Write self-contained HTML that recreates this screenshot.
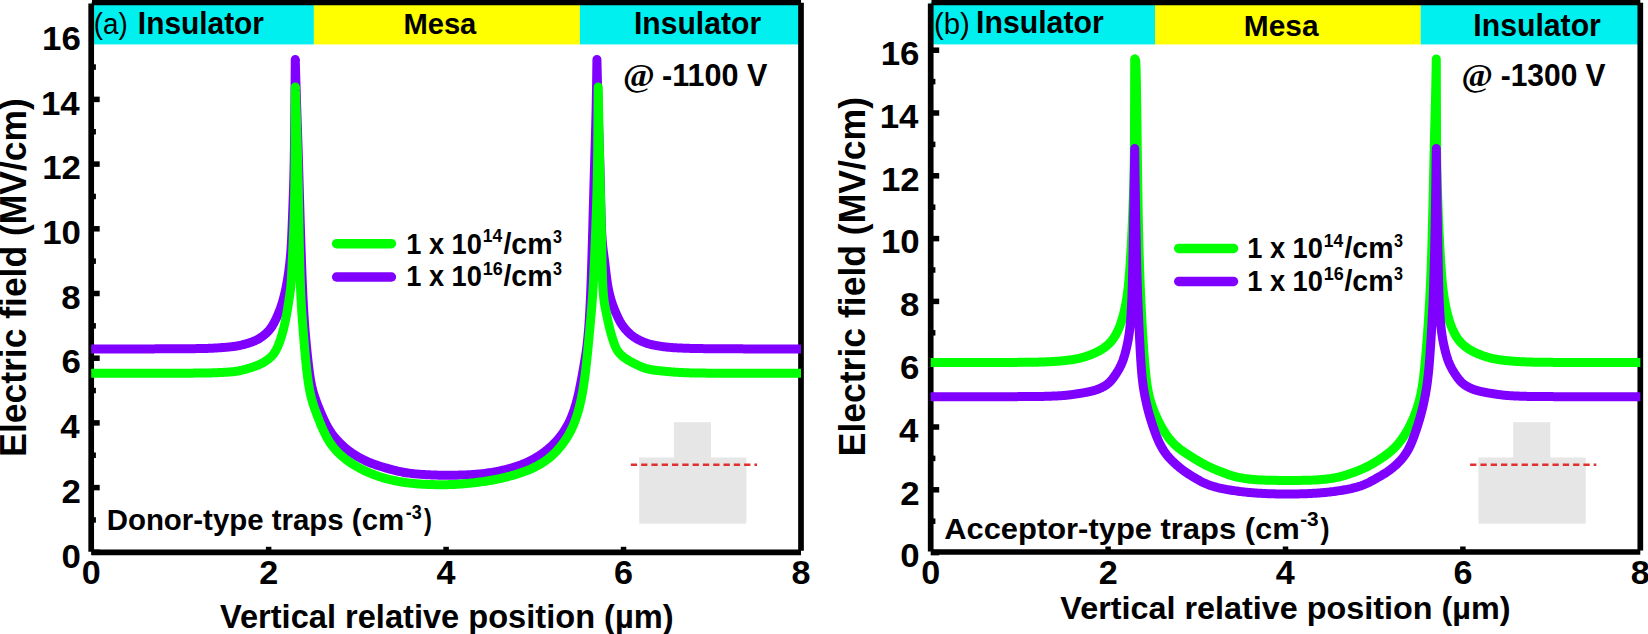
<!DOCTYPE html>
<html><head><meta charset="utf-8"><title>Electric field</title>
<style>html,body{margin:0;padding:0;background:#fff;}svg{display:block}</style></head>
<body><svg width="1648" height="634" viewBox="0 0 1648 634">
<rect width="1648" height="634" fill="#fff"/>
<rect x="91.2" y="549.55" width="8.5" height="5.5" fill="#000"/>
<rect x="91.2" y="517.20" width="4.7" height="5.5" fill="#000"/>
<rect x="91.2" y="484.85" width="8.5" height="5.5" fill="#000"/>
<rect x="91.2" y="452.50" width="4.7" height="5.5" fill="#000"/>
<rect x="91.2" y="420.15" width="8.5" height="5.5" fill="#000"/>
<rect x="91.2" y="387.80" width="4.7" height="5.5" fill="#000"/>
<rect x="91.2" y="355.45" width="8.5" height="5.5" fill="#000"/>
<rect x="91.2" y="323.10" width="4.7" height="5.5" fill="#000"/>
<rect x="91.2" y="290.75" width="8.5" height="5.5" fill="#000"/>
<rect x="91.2" y="258.40" width="4.7" height="5.5" fill="#000"/>
<rect x="91.2" y="226.05" width="8.5" height="5.5" fill="#000"/>
<rect x="91.2" y="193.70" width="4.7" height="5.5" fill="#000"/>
<rect x="91.2" y="161.35" width="8.5" height="5.5" fill="#000"/>
<rect x="91.2" y="129.00" width="4.7" height="5.5" fill="#000"/>
<rect x="91.2" y="96.65" width="8.5" height="5.5" fill="#000"/>
<rect x="91.2" y="64.30" width="4.7" height="5.5" fill="#000"/>
<rect x="91.2" y="31.95" width="8.5" height="5.5" fill="#000"/>
<rect x="91.2" y="2" width="222.70" height="42.4" fill="#00f0f0"/>
<rect x="313.90" y="2" width="266.00" height="42.4" fill="#ffff00"/>
<rect x="579.90" y="2" width="221.10" height="42.4" fill="#00f0f0"/>
<rect x="673.9" y="422.2" width="37.1" height="36" fill="#e6e6e6"/>
<rect x="639.2" y="457.5" width="107.2" height="66.1" fill="#e6e6e6"/>
<line x1="630.8" y1="464.8" x2="757.0" y2="464.8" stroke="#e03030" stroke-width="2.4" stroke-dasharray="6.3 4"/>
<path d="M92.00,2.45 H801.00 M91.20,3.5 V551.70 M91.70,552.30 H801.00 M801.00,2.8 V550.80" fill="none" stroke="#000" stroke-width="5.7" stroke-linecap="butt"/>
<path d="M91.20,349.00 L94.73,349.00 L95.45,349.00 L96.24,349.00 L97.10,349.00 L98.02,349.00 L99.00,349.00 L100.02,349.00 L101.08,349.00 L102.17,349.00 L103.28,348.99 L104.41,348.99 L105.55,348.99 L106.69,348.99 L107.84,348.99 L108.98,348.99 L110.13,348.99 L111.27,348.99 L112.41,348.99 L113.55,348.98 L114.68,348.98 L115.81,348.98 L116.93,348.98 L118.05,348.98 L119.17,348.98 L120.28,348.97 L121.38,348.97 L122.48,348.97 L123.58,348.97 L124.67,348.97 L125.75,348.96 L126.84,348.96 L127.91,348.96 L128.99,348.96 L130.05,348.96 L131.12,348.95 L132.18,348.95 L133.23,348.95 L134.28,348.94 L135.32,348.94 L136.36,348.94 L137.40,348.94 L138.43,348.93 L139.46,348.93 L140.48,348.93 L141.50,348.92 L142.51,348.92 L143.52,348.92 L144.53,348.91 L145.53,348.91 L146.52,348.91 L147.51,348.90 L148.50,348.90 L149.48,348.90 L150.46,348.89 L151.43,348.89 L152.40,348.88 L153.37,348.88 L154.33,348.88 L155.29,348.87 L156.24,348.87 L157.18,348.86 L158.13,348.86 L159.07,348.86 L160.00,348.85 L160.93,348.85 L161.86,348.84 L162.78,348.84 L163.70,348.83 L164.61,348.83 L165.52,348.83 L166.42,348.82 L167.33,348.82 L168.22,348.81 L169.11,348.81 L170.00,348.80 L170.89,348.80 L171.77,348.79 L172.64,348.79 L173.51,348.78 L174.38,348.78 L175.24,348.77 L176.10,348.77 L176.96,348.76 L177.81,348.76 L178.65,348.75 L179.50,348.75 L180.34,348.74 L181.17,348.74 L182.00,348.73 L182.83,348.72 L183.65,348.72 L184.47,348.71 L185.28,348.71 L186.09,348.70 L186.90,348.70 L187.70,348.69 L188.50,348.69 L189.29,348.68 L190.08,348.67 L190.87,348.67 L191.65,348.66 L192.43,348.66 L193.21,348.65 L193.98,348.64 L194.75,348.64 L195.51,348.63 L196.27,348.62 L197.02,348.62 L197.77,348.61 L198.52,348.60 L199.27,348.59 L200.01,348.58 L200.74,348.57 L201.47,348.56 L202.20,348.54 L202.93,348.53 L203.65,348.51 L204.37,348.49 L205.08,348.48 L205.79,348.45 L206.50,348.43 L207.20,348.41 L207.90,348.39 L208.59,348.36 L209.28,348.33 L209.97,348.30 L210.65,348.28 L211.33,348.24 L212.01,348.21 L212.68,348.18 L213.35,348.14 L214.02,348.11 L214.68,348.07 L215.34,348.03 L215.99,347.99 L216.64,347.95 L217.29,347.91 L217.94,347.87 L218.58,347.83 L219.21,347.79 L219.85,347.74 L220.48,347.70 L221.10,347.65 L221.73,347.61 L222.35,347.56 L222.96,347.51 L223.57,347.46 L224.18,347.41 L224.79,347.36 L225.39,347.31 L225.99,347.26 L226.58,347.21 L227.18,347.16 L227.76,347.11 L228.35,347.05 L228.93,347.00 L229.51,346.94 L230.08,346.88 L230.66,346.82 L231.22,346.76 L231.79,346.70 L232.35,346.63 L232.91,346.56 L233.46,346.49 L234.01,346.42 L234.56,346.34 L235.11,346.26 L235.65,346.18 L236.19,346.09 L236.72,346.00 L237.25,345.91 L237.78,345.81 L238.31,345.71 L238.83,345.61 L239.35,345.51 L239.87,345.40 L240.38,345.29 L240.89,345.18 L241.39,345.06 L241.90,344.95 L242.40,344.83 L242.89,344.70 L243.39,344.58 L243.88,344.45 L244.37,344.33 L244.85,344.19 L245.33,344.06 L245.81,343.93 L246.28,343.79 L246.76,343.65 L247.23,343.51 L247.69,343.37 L248.15,343.23 L248.61,343.09 L249.07,342.94 L249.53,342.79 L249.98,342.64 L250.43,342.49 L250.87,342.34 L251.31,342.19 L251.75,342.03 L252.19,341.87 L252.62,341.71 L253.05,341.54 L253.48,341.37 L253.90,341.20 L254.33,341.03 L254.74,340.85 L255.16,340.66 L255.57,340.47 L255.98,340.28 L256.39,340.08 L256.80,339.88 L257.20,339.67 L257.60,339.46 L257.99,339.25 L258.39,339.02 L258.78,338.80 L259.16,338.57 L259.55,338.33 L259.93,338.09 L260.31,337.84 L260.69,337.59 L261.06,337.34 L261.43,337.08 L261.80,336.82 L262.17,336.55 L262.53,336.29 L262.89,336.01 L263.25,335.73 L263.61,335.45 L263.96,335.17 L264.31,334.88 L264.66,334.59 L265.00,334.30 L265.34,334.00 L265.68,333.70 L266.02,333.39 L266.36,333.08 L266.69,332.77 L267.02,332.46 L267.34,332.14 L267.67,331.81 L267.99,331.48 L268.31,331.14 L268.63,330.80 L268.94,330.45 L269.25,330.09 L269.56,329.72 L269.87,329.35 L270.17,328.96 L270.47,328.57 L270.77,328.16 L271.07,327.75 L271.37,327.32 L271.66,326.88 L271.95,326.44 L272.24,325.98 L272.52,325.51 L272.80,325.04 L273.08,324.56 L273.36,324.07 L273.64,323.57 L273.91,323.07 L274.18,322.56 L274.45,322.04 L274.72,321.52 L274.98,321.00 L275.24,320.47 L275.50,319.94 L275.76,319.40 L276.02,318.87 L276.27,318.33 L276.52,317.79 L276.77,317.24 L277.01,316.70 L277.26,316.15 L277.50,315.60 L277.74,315.05 L277.98,314.50 L278.21,313.95 L278.45,313.39 L278.68,312.83 L278.91,312.27 L279.13,311.71 L279.36,311.14 L279.58,310.56 L279.80,309.99 L280.02,309.40 L280.24,308.82 L280.45,308.22 L280.66,307.62 L280.87,307.02 L281.08,306.41 L281.29,305.80 L281.49,305.18 L281.69,304.55 L281.89,303.92 L282.09,303.28 L282.29,302.64 L282.48,302.00 L282.68,301.34 L282.87,300.69 L283.05,300.03 L283.24,299.36 L283.43,298.69 L283.61,298.01 L283.79,297.33 L283.97,296.64 L284.15,295.95 L284.32,295.26 L284.49,294.55 L284.67,293.84 L284.84,293.13 L285.00,292.41 L285.17,291.68 L285.33,290.94 L285.50,290.20 L285.66,289.45 L285.82,288.70 L285.97,287.93 L286.13,287.16 L286.28,286.38 L286.43,285.60 L286.58,284.81 L286.73,284.01 L286.88,283.20 L287.02,282.38 L287.17,281.56 L287.31,280.74 L287.45,279.90 L287.59,279.06 L287.73,278.22 L287.86,277.37 L287.99,276.51 L288.13,275.65 L288.26,274.78 L288.38,273.91 L288.51,273.03 L288.64,272.14 L288.76,271.25 L288.88,270.36 L289.00,269.45 L289.12,268.54 L289.24,267.61 L289.36,266.68 L289.47,265.73 L289.59,264.77 L289.70,263.80 L289.81,262.81 L289.92,261.80 L290.02,260.77 L290.13,259.73 L290.23,258.66 L290.34,257.56 L290.44,256.44 L290.54,255.30 L290.64,254.11 L290.74,252.90 L290.83,251.64 L290.93,250.34 L291.02,249.00 L291.11,247.60 L291.20,246.15 L291.29,244.64 L291.38,243.08 L291.47,241.45 L291.55,239.77 L291.64,238.03 L291.72,236.24 L291.80,234.41 L291.88,232.54 L291.96,230.64 L292.04,228.72 L292.11,226.80 L292.19,224.88 L292.26,222.96 L292.34,221.06 L292.41,219.19 L292.48,217.34 L292.55,215.52 L292.62,213.73 L292.68,211.97 L292.75,210.25 L292.81,208.55 L292.88,206.88 L292.94,205.23 L293.00,203.61 L293.06,202.00 L293.12,200.40 L293.18,198.81 L293.24,197.23 L293.29,195.64 L293.35,194.06 L293.40,192.47 L293.45,190.88 L293.51,189.28 L293.56,187.67 L293.61,186.05 L293.66,184.42 L293.70,182.77 L293.75,181.11 L293.80,179.43 L293.84,177.73 L293.89,176.01 L293.93,174.27 L293.97,172.50 L294.01,170.71 L294.05,168.88 L294.09,167.02 L294.13,165.12 L294.17,163.19 L294.21,161.22 L294.24,159.21 L294.28,157.16 L294.31,155.07 L294.35,152.94 L294.38,150.79 L294.41,148.60 L294.44,146.39 L294.47,144.16 L294.50,141.91 L294.53,139.66 L294.56,137.40 L294.59,135.14 L294.62,132.90 L294.64,130.66 L294.67,128.44 L294.69,126.25 L294.72,124.07 L294.74,121.92 L294.76,119.80 L294.78,117.71 L294.80,115.64 L294.83,113.61 L294.85,111.61 L294.87,109.63 L294.88,107.69 L294.90,105.78 L294.92,103.90 L294.94,102.05 L294.95,100.23 L294.97,98.44 L294.98,96.68 L295.00,94.96 L295.01,93.27 L295.03,91.62 L295.04,90.01 L295.05,88.44 L295.07,86.91 L295.08,85.43 L295.09,83.99 L295.10,82.59 L295.11,81.24 L295.12,79.93 L295.13,78.68 L295.14,77.47 L295.15,76.30 L295.16,75.19 L295.16,74.12 L295.17,73.10 L295.18,72.12 L295.18,71.20 L295.19,70.31 L295.20,69.48 L295.20,68.68 L295.21,67.93 L295.21,67.22 L295.22,66.55 L295.22,65.93 L295.23,65.34 L295.23,64.79 L295.23,64.27 L295.24,63.79 L295.24,63.35 L295.24,62.94 L295.25,62.56 L295.25,62.21 L295.25,61.89 L295.25,61.59 L295.25,61.33 L295.26,61.09 L295.26,60.87 L295.26,60.67 L295.26,60.50 L295.26,60.35 L295.26,60.21 L295.26,60.09 L295.26,59.99 L295.26,59.90 L295.27,59.83 L295.27,59.76 L295.27,59.71 L295.27,59.66 L295.27,59.63 L295.27,59.60 L295.27,59.57 L295.27,59.56 L295.27,59.50 L295.27,59.50 L295.27,59.58 L295.27,59.61 L295.27,59.64 L295.27,59.69 L295.27,59.74 L295.28,59.81 L295.28,59.89 L295.28,59.98 L295.28,60.09 L295.29,60.22 L295.29,60.37 L295.30,60.55 L295.30,60.75 L295.31,60.97 L295.32,61.23 L295.32,61.51 L295.33,61.83 L295.34,62.19 L295.35,62.58 L295.37,63.01 L295.38,63.48 L295.39,63.99 L295.41,64.55 L295.43,65.15 L295.45,65.81 L295.47,66.51 L295.49,67.26 L295.51,68.07 L295.53,68.94 L295.56,69.86 L295.59,70.84 L295.62,71.88 L295.65,72.98 L295.68,74.14 L295.72,75.37 L295.76,76.67 L295.80,78.03 L295.84,79.46 L295.88,80.97 L295.93,82.54 L295.98,84.18 L296.03,85.89 L296.08,87.68 L296.14,89.53 L296.20,91.46 L296.26,93.46 L296.33,95.54 L296.39,97.68 L296.46,99.89 L296.53,102.18 L296.61,104.53 L296.69,106.95 L296.77,109.44 L296.85,112.00 L296.94,114.63 L297.03,117.33 L297.13,120.12 L297.22,122.99 L297.32,125.95 L297.43,129.01 L297.54,132.18 L297.65,135.47 L297.76,138.91 L297.88,142.50 L298.00,146.25 L298.13,150.19 L298.26,154.33 L298.39,158.68 L298.53,163.24 L298.67,168.03 L298.82,173.03 L298.97,178.25 L299.12,183.67 L299.28,189.28 L299.44,195.06 L299.61,200.98 L299.78,207.01 L299.96,213.14 L300.14,219.33 L300.32,225.56 L300.51,231.81 L300.71,238.07 L300.91,244.30 L301.11,250.49 L301.32,256.63 L301.53,262.70 L301.75,268.67 L301.98,274.53 L302.21,280.25 L302.44,285.81 L302.68,291.19 L302.93,296.37 L303.18,301.33 L303.43,306.08 L303.69,310.62 L303.96,314.94 L304.23,319.06 L304.51,323.00 L304.79,326.79 L305.08,330.45 L305.38,334.00 L305.68,337.47 L305.99,340.88 L306.30,344.25 L306.62,347.58 L306.95,350.88 L307.28,354.16 L307.61,357.40 L307.96,360.59 L308.31,363.72 L308.67,366.77 L309.03,369.71 L309.40,372.54 L309.77,375.23 L310.16,377.77 L310.55,380.16 L310.94,382.39 L311.35,384.47 L311.76,386.41 L312.17,388.22 L312.60,389.91 L313.03,391.51 L313.47,393.03 L313.91,394.48 L314.37,395.88 L314.83,397.25 L315.29,398.58 L315.77,399.90 L316.25,401.21 L316.74,402.51 L317.24,403.80 L317.74,405.10 L318.25,406.39 L318.77,407.69 L319.30,408.99 L319.84,410.30 L320.38,411.61 L320.93,412.92 L321.49,414.23 L322.06,415.54 L322.64,416.85 L323.22,418.15 L323.82,419.45 L324.42,420.73 L325.03,421.99 L325.64,423.24 L326.27,424.46 L326.91,425.66 L327.55,426.84 L328.20,427.98 L328.86,429.10 L329.53,430.19 L330.21,431.25 L330.90,432.28 L331.59,433.29 L332.30,434.27 L333.01,435.23 L333.74,436.16 L334.47,437.08 L335.21,437.98 L335.96,438.86 L336.73,439.72 L337.50,440.57 L338.28,441.40 L339.07,442.22 L339.86,443.03 L340.67,443.82 L341.49,444.60 L342.32,445.37 L343.16,446.13 L344.01,446.88 L344.86,447.61 L345.73,448.34 L346.61,449.05 L347.50,449.75 L348.40,450.45 L349.31,451.13 L350.22,451.80 L351.15,452.46 L352.09,453.10 L353.04,453.74 L354.00,454.37 L354.98,454.99 L355.96,455.60 L356.95,456.19 L357.95,456.78 L358.97,457.36 L359.99,457.93 L361.03,458.48 L362.08,459.03 L363.14,459.56 L364.21,460.09 L365.29,460.60 L366.38,461.10 L367.48,461.59 L368.60,462.06 L369.72,462.53 L370.86,462.99 L372.01,463.43 L373.17,463.86 L374.34,464.29 L375.52,464.71 L376.72,465.11 L377.93,465.51 L379.15,465.91 L380.38,466.30 L381.62,466.68 L382.88,467.06 L384.15,467.44 L385.43,467.82 L386.72,468.19 L388.02,468.56 L389.34,468.93 L390.67,469.29 L392.01,469.65 L393.36,470.01 L394.73,470.36 L396.11,470.70 L397.50,471.03 L398.91,471.34 L400.32,471.65 L401.75,471.94 L403.20,472.22 L404.65,472.48 L406.12,472.72 L407.61,472.95 L409.10,473.16 L410.61,473.36 L412.13,473.54 L413.67,473.71 L415.22,473.86 L416.78,474.01 L418.35,474.14 L419.94,474.26 L421.55,474.38 L423.16,474.49 L424.79,474.59 L426.44,474.68 L428.09,474.77 L429.76,474.85 L431.44,474.92 L433.13,474.99 L434.84,475.05 L436.55,475.10 L438.27,475.15 L440.01,475.18 L441.74,475.21 L443.48,475.24 L445.23,475.25 L446.97,475.26 L448.72,475.26 L450.46,475.25 L452.19,475.24 L453.93,475.22 L455.65,475.19 L457.36,475.16 L459.07,475.12 L460.76,475.07 L462.44,475.02 L464.11,474.97 L465.76,474.90 L467.41,474.83 L469.04,474.75 L470.65,474.66 L472.26,474.57 L473.85,474.46 L475.42,474.34 L476.98,474.22 L478.53,474.08 L480.07,473.93 L481.59,473.77 L483.10,473.60 L484.59,473.42 L486.08,473.23 L487.55,473.02 L489.00,472.81 L490.45,472.59 L491.88,472.36 L493.29,472.12 L494.70,471.87 L496.09,471.62 L497.47,471.35 L498.84,471.08 L500.19,470.80 L501.53,470.51 L502.86,470.22 L504.18,469.91 L505.48,469.60 L506.77,469.28 L508.05,468.94 L509.32,468.60 L510.58,468.25 L511.82,467.89 L513.05,467.52 L514.27,467.14 L515.48,466.75 L516.68,466.35 L517.86,465.94 L519.03,465.53 L520.19,465.10 L521.34,464.67 L522.48,464.22 L523.60,463.77 L524.72,463.31 L525.82,462.84 L526.91,462.35 L527.99,461.86 L529.06,461.36 L530.12,460.84 L531.17,460.31 L532.21,459.77 L533.23,459.22 L534.25,458.66 L535.25,458.08 L536.24,457.50 L537.22,456.90 L538.20,456.29 L539.16,455.67 L540.11,455.04 L541.05,454.40 L541.98,453.74 L542.89,453.08 L543.80,452.41 L544.70,451.74 L545.59,451.05 L546.47,450.35 L547.34,449.65 L548.19,448.94 L549.04,448.22 L549.88,447.49 L550.71,446.75 L551.53,446.00 L552.34,445.25 L553.13,444.48 L553.92,443.70 L554.70,442.91 L555.47,442.10 L556.24,441.29 L556.99,440.46 L557.73,439.61 L558.46,438.75 L559.19,437.88 L559.90,436.98 L560.61,436.08 L561.30,435.15 L561.99,434.21 L562.67,433.25 L563.34,432.28 L564.00,431.28 L564.65,430.27 L565.29,429.24 L565.93,428.18 L566.56,427.11 L567.17,426.00 L567.78,424.88 L568.38,423.72 L568.98,422.54 L569.56,421.33 L570.14,420.08 L570.71,418.80 L571.27,417.49 L571.82,416.13 L572.36,414.75 L572.90,413.32 L573.43,411.86 L573.95,410.35 L574.46,408.81 L574.96,407.22 L575.46,405.59 L575.95,403.91 L576.43,402.19 L576.91,400.42 L577.37,398.60 L577.83,396.74 L578.29,394.83 L578.73,392.87 L579.17,390.88 L579.60,388.84 L580.03,386.78 L580.44,384.69 L580.85,382.58 L581.26,380.47 L581.65,378.35 L582.04,376.24 L582.43,374.14 L582.80,372.05 L583.17,369.98 L583.53,367.93 L583.89,365.90 L584.24,363.88 L584.59,361.86 L584.92,359.84 L585.25,357.80 L585.58,355.73 L585.90,353.62 L586.21,351.45 L586.52,349.21 L586.82,346.88 L587.12,344.45 L587.41,341.90 L587.69,339.22 L587.97,336.40 L588.24,333.43 L588.51,330.29 L588.77,326.98 L589.02,323.47 L589.27,319.77 L589.52,315.86 L589.76,311.73 L589.99,307.38 L590.22,302.79 L590.45,297.97 L590.67,292.91 L590.88,287.64 L591.09,282.15 L591.29,276.48 L591.49,270.65 L591.69,264.68 L591.88,258.62 L592.06,252.51 L592.24,246.38 L592.42,240.27 L592.59,234.22 L592.76,228.25 L592.92,222.41 L593.08,216.70 L593.23,211.15 L593.38,205.77 L593.53,200.55 L593.67,195.52 L593.81,190.66 L593.94,185.97 L594.07,181.46 L594.20,177.12 L594.32,172.94 L594.44,168.91 L594.55,165.04 L594.66,161.31 L594.77,157.72 L594.88,154.26 L594.98,150.92 L595.07,147.68 L595.17,144.55 L595.26,141.50 L595.35,138.54 L595.43,135.64 L595.51,132.81 L595.59,130.02 L595.67,127.28 L595.74,124.57 L595.81,121.90 L595.87,119.25 L595.94,116.63 L596.00,114.03 L596.06,111.46 L596.12,108.91 L596.17,106.39 L596.22,103.89 L596.27,101.43 L596.32,99.01 L596.36,96.63 L596.40,94.31 L596.44,92.04 L596.48,89.83 L596.52,87.69 L596.55,85.62 L596.58,83.63 L596.61,81.72 L596.64,79.90 L596.67,78.17 L596.69,76.52 L596.71,74.97 L596.73,73.50 L596.75,72.13 L596.77,70.85 L596.79,69.65 L596.81,68.55 L596.82,67.53 L596.83,66.59 L596.85,65.72 L596.86,64.94 L596.87,64.23 L596.88,63.58 L596.88,63.00 L596.89,62.49 L596.90,62.03 L596.90,61.63 L596.91,61.27 L596.91,60.97 L596.92,60.70 L596.92,60.47 L596.92,60.28 L596.92,60.12 L596.93,59.99 L596.93,59.88 L596.93,59.79 L596.93,59.72 L596.93,59.66 L596.93,59.50 L596.93,59.50 L596.93,59.52 L596.93,59.52 L596.93,59.53 L596.93,59.54 L596.93,59.55 L596.93,59.57 L596.93,59.59 L596.93,59.61 L596.94,59.63 L596.94,59.66 L596.94,59.69 L596.94,59.73 L596.94,59.78 L596.94,59.83 L596.94,59.88 L596.94,59.95 L596.94,60.02 L596.95,60.10 L596.95,60.18 L596.95,60.28 L596.95,60.38 L596.95,60.50 L596.96,60.62 L596.96,60.76 L596.96,60.90 L596.97,61.06 L596.97,61.23 L596.97,61.41 L596.98,61.60 L596.98,61.81 L596.99,62.03 L596.99,62.27 L597.00,62.52 L597.00,62.78 L597.01,63.06 L597.02,63.35 L597.02,63.67 L597.03,63.99 L597.04,64.34 L597.04,64.70 L597.05,65.08 L597.06,65.48 L597.07,65.89 L597.08,66.33 L597.09,66.78 L597.10,67.26 L597.11,67.75 L597.12,68.27 L597.13,68.80 L597.15,69.36 L597.16,69.94 L597.17,70.53 L597.19,71.16 L597.20,71.80 L597.22,72.46 L597.23,73.15 L597.25,73.86 L597.26,74.60 L597.28,75.35 L597.30,76.13 L597.32,76.94 L597.33,77.77 L597.35,78.62 L597.37,79.50 L597.40,80.39 L597.42,81.32 L597.44,82.27 L597.46,83.24 L597.48,84.23 L597.51,85.25 L597.53,86.30 L597.56,87.37 L597.58,88.46 L597.61,89.57 L597.64,90.70 L597.67,91.86 L597.70,93.04 L597.73,94.24 L597.76,95.47 L597.79,96.71 L597.82,97.97 L597.85,99.25 L597.89,100.55 L597.92,101.87 L597.96,103.20 L597.99,104.55 L598.03,105.91 L598.07,107.28 L598.11,108.67 L598.15,110.06 L598.19,111.47 L598.23,112.88 L598.27,114.31 L598.31,115.74 L598.36,117.18 L598.40,118.63 L598.45,120.09 L598.50,121.56 L598.54,123.03 L598.59,124.52 L598.64,126.02 L598.69,127.54 L598.75,129.07 L598.80,130.62 L598.85,132.19 L598.91,133.79 L598.96,135.41 L599.02,137.07 L599.08,138.77 L599.14,140.51 L599.20,142.30 L599.26,144.14 L599.32,146.05 L599.39,148.03 L599.45,150.10 L599.52,152.25 L599.58,154.51 L599.65,156.87 L599.72,159.36 L599.79,161.97 L599.86,164.72 L599.94,167.61 L600.01,170.65 L600.09,173.82 L600.16,177.13 L600.24,180.55 L600.32,184.09 L600.40,187.71 L600.48,191.39 L600.56,195.10 L600.65,198.82 L600.73,202.50 L600.82,206.12 L600.91,209.65 L601.00,213.05 L601.09,216.30 L601.18,219.39 L601.27,222.29 L601.37,225.00 L601.46,227.51 L601.56,229.84 L601.66,231.98 L601.76,233.94 L601.86,235.75 L601.97,237.42 L602.07,238.95 L602.18,240.38 L602.28,241.71 L602.39,242.96 L602.50,244.14 L602.61,245.26 L602.73,246.33 L602.84,247.36 L602.96,248.36 L603.08,249.34 L603.20,250.30 L603.32,251.25 L603.44,252.20 L603.56,253.14 L603.69,254.10 L603.82,255.06 L603.94,256.04 L604.07,257.05 L604.21,258.08 L604.34,259.13 L604.47,260.22 L604.61,261.33 L604.75,262.47 L604.89,263.64 L605.03,264.84 L605.18,266.06 L605.32,267.30 L605.47,268.56 L605.62,269.82 L605.77,271.09 L605.92,272.36 L606.07,273.63 L606.23,274.88 L606.38,276.12 L606.54,277.35 L606.70,278.55 L606.87,279.73 L607.03,280.88 L607.20,282.00 L607.36,283.09 L607.53,284.16 L607.71,285.19 L607.88,286.20 L608.05,287.18 L608.23,288.14 L608.41,289.07 L608.59,289.98 L608.77,290.86 L608.96,291.72 L609.15,292.57 L609.33,293.39 L609.52,294.20 L609.72,294.98 L609.91,295.76 L610.11,296.51 L610.31,297.25 L610.51,297.98 L610.71,298.70 L610.91,299.40 L611.12,300.09 L611.33,300.77 L611.54,301.44 L611.75,302.10 L611.96,302.75 L612.18,303.39 L612.40,304.03 L612.62,304.65 L612.84,305.28 L613.07,305.89 L613.29,306.50 L613.52,307.10 L613.75,307.70 L613.99,308.30 L614.22,308.89 L614.46,309.48 L614.70,310.07 L614.94,310.66 L615.19,311.25 L615.43,311.83 L615.68,312.41 L615.93,313.00 L616.18,313.58 L616.44,314.16 L616.70,314.74 L616.96,315.32 L617.22,315.89 L617.48,316.46 L617.75,317.03 L618.02,317.60 L618.29,318.16 L618.56,318.72 L618.84,319.27 L619.12,319.81 L619.40,320.35 L619.68,320.88 L619.96,321.40 L620.25,321.91 L620.54,322.41 L620.83,322.91 L621.13,323.39 L621.43,323.86 L621.73,324.33 L622.03,324.78 L622.33,325.23 L622.64,325.67 L622.95,326.10 L623.26,326.52 L623.57,326.94 L623.89,327.35 L624.21,327.75 L624.53,328.15 L624.86,328.55 L625.18,328.94 L625.51,329.32 L625.84,329.70 L626.18,330.08 L626.52,330.45 L626.86,330.82 L627.20,331.19 L627.54,331.55 L627.89,331.91 L628.24,332.26 L628.59,332.61 L628.95,332.95 L629.31,333.29 L629.67,333.63 L630.03,333.96 L630.40,334.28 L630.77,334.60 L631.14,334.91 L631.51,335.22 L631.89,335.52 L632.27,335.82 L632.65,336.11 L633.04,336.39 L633.42,336.67 L633.81,336.95 L634.21,337.21 L634.60,337.48 L635.00,337.73 L635.40,337.99 L635.81,338.23 L636.22,338.48 L636.63,338.71 L637.04,338.95 L637.46,339.18 L637.87,339.41 L638.30,339.63 L638.72,339.85 L639.15,340.07 L639.58,340.29 L640.01,340.50 L640.45,340.71 L640.89,340.91 L641.33,341.12 L641.77,341.32 L642.22,341.51 L642.67,341.71 L643.13,341.90 L643.59,342.09 L644.05,342.27 L644.51,342.45 L644.97,342.62 L645.44,342.79 L645.92,342.96 L646.39,343.12 L646.87,343.28 L647.35,343.44 L647.83,343.59 L648.32,343.73 L648.81,343.88 L649.31,344.01 L649.80,344.15 L650.30,344.27 L650.81,344.40 L651.31,344.52 L651.82,344.64 L652.33,344.76 L652.85,344.87 L653.37,344.98 L653.89,345.09 L654.42,345.19 L654.95,345.30 L655.48,345.40 L656.01,345.50 L656.55,345.60 L657.09,345.70 L657.64,345.80 L658.19,345.89 L658.74,345.98 L659.29,346.07 L659.85,346.16 L660.41,346.25 L660.98,346.34 L661.54,346.42 L662.12,346.51 L662.69,346.59 L663.27,346.67 L663.85,346.74 L664.44,346.82 L665.02,346.89 L665.62,346.96 L666.21,347.03 L666.81,347.10 L667.41,347.16 L668.02,347.22 L668.63,347.28 L669.24,347.34 L669.85,347.39 L670.47,347.45 L671.10,347.50 L671.72,347.55 L672.35,347.59 L672.99,347.64 L673.62,347.68 L674.26,347.72 L674.91,347.76 L675.56,347.79 L676.21,347.83 L676.86,347.87 L677.52,347.90 L678.18,347.93 L678.85,347.97 L679.52,348.00 L680.19,348.03 L680.87,348.06 L681.55,348.09 L682.23,348.12 L682.92,348.15 L683.61,348.18 L684.30,348.20 L685.00,348.23 L685.70,348.26 L686.41,348.28 L687.12,348.31 L687.83,348.33 L688.55,348.35 L689.27,348.37 L690.00,348.39 L690.73,348.41 L691.46,348.43 L692.19,348.45 L692.93,348.47 L693.68,348.49 L694.43,348.50 L695.18,348.52 L695.93,348.53 L696.69,348.54 L697.45,348.55 L698.22,348.57 L698.99,348.58 L699.77,348.59 L700.55,348.60 L701.33,348.60 L702.12,348.61 L702.91,348.62 L703.70,348.63 L704.50,348.63 L705.30,348.64 L706.11,348.65 L706.92,348.65 L707.73,348.66 L708.55,348.67 L709.37,348.67 L710.20,348.68 L711.03,348.69 L711.86,348.69 L712.70,348.70 L713.55,348.70 L714.39,348.71 L715.24,348.72 L716.10,348.72 L716.96,348.73 L717.82,348.73 L718.69,348.74 L719.56,348.74 L720.43,348.75 L721.31,348.76 L722.20,348.76 L723.09,348.77 L723.98,348.77 L724.87,348.78 L725.78,348.78 L726.68,348.79 L727.59,348.79 L728.50,348.80 L729.42,348.80 L730.34,348.81 L731.27,348.82 L732.20,348.82 L733.13,348.83 L734.07,348.83 L735.02,348.84 L735.96,348.84 L736.91,348.84 L737.87,348.85 L738.83,348.85 L739.80,348.86 L740.77,348.86 L741.74,348.87 L742.72,348.87 L743.70,348.88 L744.69,348.88 L745.68,348.89 L746.67,348.89 L747.67,348.89 L748.68,348.90 L749.69,348.90 L750.70,348.91 L751.72,348.91 L752.74,348.91 L753.77,348.92 L754.80,348.92 L755.84,348.92 L756.88,348.93 L757.92,348.93 L758.97,348.93 L760.02,348.94 L761.08,348.94 L762.15,348.94 L763.21,348.95 L764.29,348.95 L765.36,348.95 L766.45,348.96 L767.53,348.96 L768.62,348.96 L769.72,348.96 L770.82,348.97 L771.92,348.97 L773.03,348.97 L774.15,348.97 L775.27,348.97 L776.39,348.98 L777.52,348.98 L778.65,348.98 L779.79,348.98 L780.93,348.98 L782.07,348.99 L783.22,348.99 L784.36,348.99 L785.51,348.99 L786.65,348.99 L787.79,348.99 L788.92,348.99 L790.03,348.99 L791.12,349.00 L792.18,349.00 L793.20,349.00 L794.18,349.00 L795.10,349.00 L795.96,349.00 L796.75,349.00 L797.47,349.00 L801.00,349.00" fill="none" stroke="#8000ff" stroke-width="9" stroke-linejoin="round" stroke-linecap="butt"/>
<path d="M91.20,373.30 L94.73,373.30 L95.45,373.30 L96.24,373.30 L97.10,373.30 L98.02,373.30 L99.00,373.30 L100.02,373.30 L101.08,373.30 L102.17,373.30 L103.28,373.30 L104.41,373.30 L105.55,373.30 L106.69,373.30 L107.84,373.30 L108.98,373.30 L110.13,373.29 L111.27,373.29 L112.41,373.29 L113.55,373.29 L114.68,373.29 L115.81,373.29 L116.93,373.29 L118.05,373.29 L119.17,373.29 L120.28,373.29 L121.38,373.29 L122.48,373.29 L123.58,373.29 L124.67,373.28 L125.75,373.28 L126.84,373.28 L127.91,373.28 L128.99,373.28 L130.05,373.28 L131.12,373.28 L132.18,373.28 L133.23,373.27 L134.28,373.27 L135.32,373.27 L136.36,373.27 L137.40,373.27 L138.43,373.27 L139.46,373.27 L140.48,373.26 L141.50,373.26 L142.51,373.26 L143.52,373.26 L144.53,373.26 L145.53,373.26 L146.52,373.25 L147.51,373.25 L148.50,373.25 L149.48,373.25 L150.46,373.25 L151.43,373.25 L152.40,373.24 L153.37,373.24 L154.33,373.24 L155.29,373.24 L156.24,373.24 L157.18,373.23 L158.13,373.23 L159.07,373.23 L160.00,373.23 L160.93,373.23 L161.86,373.22 L162.78,373.22 L163.70,373.22 L164.61,373.22 L165.52,373.21 L166.42,373.21 L167.33,373.21 L168.22,373.21 L169.11,373.20 L170.00,373.20 L170.89,373.20 L171.77,373.20 L172.64,373.19 L173.51,373.19 L174.38,373.19 L175.24,373.19 L176.10,373.18 L176.96,373.18 L177.81,373.18 L178.65,373.18 L179.50,373.17 L180.34,373.17 L181.17,373.17 L182.00,373.17 L182.83,373.16 L183.65,373.16 L184.47,373.16 L185.28,373.16 L186.09,373.15 L186.90,373.15 L187.70,373.15 L188.50,373.14 L189.29,373.14 L190.08,373.14 L190.87,373.13 L191.65,373.13 L192.43,373.13 L193.21,373.13 L193.98,373.12 L194.75,373.12 L195.51,373.12 L196.27,373.11 L197.02,373.11 L197.77,373.10 L198.52,373.10 L199.27,373.09 L200.01,373.09 L200.74,373.08 L201.47,373.07 L202.20,373.06 L202.93,373.06 L203.65,373.05 L204.37,373.04 L205.08,373.02 L205.79,373.01 L206.50,373.00 L207.20,372.98 L207.90,372.97 L208.59,372.95 L209.28,372.94 L209.97,372.92 L210.65,372.90 L211.33,372.88 L212.01,372.86 L212.68,372.84 L213.35,372.81 L214.02,372.79 L214.68,372.77 L215.34,372.74 L215.99,372.72 L216.64,372.69 L217.29,372.66 L217.94,372.64 L218.58,372.61 L219.21,372.58 L219.85,372.55 L220.48,372.52 L221.10,372.49 L221.73,372.46 L222.35,372.42 L222.96,372.39 L223.57,372.36 L224.18,372.33 L224.79,372.29 L225.39,372.26 L225.99,372.22 L226.58,372.18 L227.18,372.15 L227.76,372.11 L228.35,372.07 L228.93,372.03 L229.51,371.99 L230.08,371.94 L230.66,371.90 L231.22,371.85 L231.79,371.80 L232.35,371.75 L232.91,371.69 L233.46,371.63 L234.01,371.57 L234.56,371.50 L235.11,371.43 L235.65,371.35 L236.19,371.28 L236.72,371.19 L237.25,371.11 L237.78,371.02 L238.31,370.93 L238.83,370.83 L239.35,370.73 L239.87,370.63 L240.38,370.52 L240.89,370.41 L241.39,370.30 L241.90,370.19 L242.40,370.07 L242.89,369.95 L243.39,369.83 L243.88,369.71 L244.37,369.58 L244.85,369.46 L245.33,369.33 L245.81,369.20 L246.28,369.06 L246.76,368.93 L247.23,368.79 L247.69,368.66 L248.15,368.52 L248.61,368.38 L249.07,368.24 L249.53,368.09 L249.98,367.95 L250.43,367.81 L250.87,367.66 L251.31,367.52 L251.75,367.37 L252.19,367.23 L252.62,367.08 L253.05,366.93 L253.48,366.78 L253.90,366.63 L254.33,366.48 L254.74,366.33 L255.16,366.18 L255.57,366.03 L255.98,365.88 L256.39,365.72 L256.80,365.57 L257.20,365.41 L257.60,365.25 L257.99,365.09 L258.39,364.93 L258.78,364.76 L259.16,364.59 L259.55,364.42 L259.93,364.25 L260.31,364.07 L260.69,363.89 L261.06,363.71 L261.43,363.53 L261.80,363.34 L262.17,363.15 L262.53,362.95 L262.89,362.76 L263.25,362.55 L263.61,362.35 L263.96,362.14 L264.31,361.93 L264.66,361.72 L265.00,361.50 L265.34,361.28 L265.68,361.06 L266.02,360.83 L266.36,360.60 L266.69,360.37 L267.02,360.13 L267.34,359.89 L267.67,359.65 L267.99,359.41 L268.31,359.16 L268.63,358.90 L268.94,358.65 L269.25,358.39 L269.56,358.13 L269.87,357.86 L270.17,357.60 L270.47,357.32 L270.77,357.05 L271.07,356.76 L271.37,356.48 L271.66,356.18 L271.95,355.88 L272.24,355.58 L272.52,355.26 L272.80,354.93 L273.08,354.60 L273.36,354.25 L273.64,353.89 L273.91,353.52 L274.18,353.14 L274.45,352.74 L274.72,352.33 L274.98,351.91 L275.24,351.47 L275.50,351.02 L275.76,350.56 L276.02,350.09 L276.27,349.61 L276.52,349.12 L276.77,348.61 L277.01,348.11 L277.26,347.59 L277.50,347.06 L277.74,346.53 L277.98,345.99 L278.21,345.45 L278.45,344.90 L278.68,344.34 L278.91,343.77 L279.13,343.20 L279.36,342.61 L279.58,342.02 L279.80,341.42 L280.02,340.82 L280.24,340.20 L280.45,339.57 L280.66,338.94 L280.87,338.29 L281.08,337.64 L281.29,336.97 L281.49,336.30 L281.69,335.63 L281.89,334.94 L282.09,334.25 L282.29,333.55 L282.48,332.85 L282.68,332.14 L282.87,331.43 L283.05,330.71 L283.24,329.99 L283.43,329.27 L283.61,328.54 L283.79,327.80 L283.97,327.06 L284.15,326.31 L284.32,325.56 L284.49,324.81 L284.67,324.05 L284.84,323.28 L285.00,322.51 L285.17,321.73 L285.33,320.95 L285.50,320.16 L285.66,319.37 L285.82,318.57 L285.97,317.77 L286.13,316.97 L286.28,316.16 L286.43,315.35 L286.58,314.53 L286.73,313.71 L286.88,312.89 L287.02,312.07 L287.17,311.24 L287.31,310.41 L287.45,309.58 L287.59,308.75 L287.73,307.91 L287.86,307.07 L287.99,306.23 L288.13,305.39 L288.26,304.56 L288.38,303.73 L288.51,302.90 L288.64,302.08 L288.76,301.26 L288.88,300.45 L289.00,299.66 L289.12,298.87 L289.24,298.09 L289.36,297.33 L289.47,296.58 L289.59,295.83 L289.70,295.10 L289.81,294.37 L289.92,293.64 L290.02,292.91 L290.13,292.17 L290.23,291.42 L290.34,290.65 L290.44,289.86 L290.54,289.03 L290.64,288.16 L290.74,287.24 L290.83,286.27 L290.93,285.24 L291.02,284.14 L291.11,282.97 L291.20,281.73 L291.29,280.42 L291.38,279.04 L291.47,277.59 L291.55,276.08 L291.64,274.51 L291.72,272.90 L291.80,271.25 L291.88,269.57 L291.96,267.87 L292.04,266.17 L292.11,264.46 L292.19,262.77 L292.26,261.09 L292.34,259.43 L292.41,257.81 L292.48,256.22 L292.55,254.67 L292.62,253.16 L292.68,251.69 L292.75,250.26 L292.81,248.87 L292.88,247.51 L292.94,246.18 L293.00,244.88 L293.06,243.59 L293.12,242.33 L293.18,241.08 L293.24,239.84 L293.29,238.61 L293.35,237.38 L293.40,236.15 L293.45,234.93 L293.51,233.70 L293.56,232.48 L293.61,231.27 L293.66,230.06 L293.70,228.86 L293.75,227.67 L293.80,226.49 L293.84,225.32 L293.89,224.16 L293.93,223.01 L293.97,221.87 L294.01,220.73 L294.05,219.60 L294.09,218.47 L294.13,217.33 L294.17,216.19 L294.21,215.05 L294.24,213.89 L294.28,212.71 L294.31,211.52 L294.35,210.31 L294.38,209.08 L294.41,207.83 L294.44,206.56 L294.47,205.26 L294.50,203.95 L294.53,202.61 L294.56,201.26 L294.59,199.88 L294.62,198.49 L294.64,197.08 L294.67,195.66 L294.69,194.22 L294.72,192.78 L294.74,191.32 L294.76,189.86 L294.78,188.39 L294.80,186.91 L294.83,185.44 L294.85,183.96 L294.87,182.48 L294.88,181.00 L294.90,179.51 L294.92,178.02 L294.94,176.51 L294.95,174.97 L294.97,173.41 L294.98,171.81 L295.00,170.16 L295.01,168.44 L295.03,166.64 L295.04,164.75 L295.05,162.75 L295.07,160.64 L295.08,158.40 L295.09,156.05 L295.10,153.57 L295.11,150.98 L295.12,148.28 L295.13,145.49 L295.14,142.63 L295.15,139.72 L295.16,136.79 L295.16,133.84 L295.17,130.92 L295.18,128.03 L295.18,125.19 L295.19,122.43 L295.20,119.76 L295.20,117.18 L295.21,114.72 L295.21,112.37 L295.22,110.14 L295.22,108.04 L295.23,106.07 L295.23,104.22 L295.23,102.49 L295.24,100.89 L295.24,99.41 L295.24,98.04 L295.25,96.78 L295.25,95.63 L295.25,94.58 L295.25,93.63 L295.25,92.77 L295.26,91.99 L295.26,91.29 L295.26,90.67 L295.26,90.12 L295.26,89.63 L295.26,89.21 L295.26,88.83 L295.26,88.51 L295.26,88.24 L295.27,88.00 L295.27,87.80 L295.27,87.64 L295.27,87.50 L295.27,87.39 L295.27,87.30 L295.27,87.22 L295.27,87.17 L295.27,87.00 L295.27,87.00 L295.27,87.06 L295.27,87.07 L295.27,87.10 L295.27,87.13 L295.27,87.16 L295.28,87.21 L295.28,87.26 L295.28,87.33 L295.28,87.40 L295.29,87.49 L295.29,87.60 L295.30,87.72 L295.30,87.85 L295.31,88.01 L295.32,88.19 L295.32,88.39 L295.33,88.61 L295.34,88.86 L295.35,89.13 L295.37,89.44 L295.38,89.77 L295.39,90.14 L295.41,90.54 L295.43,90.97 L295.45,91.45 L295.47,91.96 L295.49,92.51 L295.51,93.11 L295.54,93.76 L295.56,94.45 L295.59,95.19 L295.62,95.99 L295.65,96.84 L295.69,97.75 L295.72,98.72 L295.76,99.76 L295.80,100.86 L295.84,102.03 L295.89,103.27 L295.93,104.59 L295.98,105.98 L296.03,107.46 L296.09,109.02 L296.14,110.67 L296.20,112.42 L296.27,114.27 L296.33,116.21 L296.40,118.27 L296.47,120.43 L296.54,122.72 L296.61,125.13 L296.69,127.67 L296.78,130.36 L296.86,133.20 L296.95,136.19 L297.04,139.36 L297.13,142.72 L297.23,146.28 L297.33,150.06 L297.44,154.08 L297.55,158.37 L297.66,162.94 L297.77,167.83 L297.89,173.06 L298.01,178.65 L298.14,184.62 L298.27,190.97 L298.41,197.70 L298.54,204.77 L298.69,212.13 L298.83,219.73 L298.98,227.48 L299.14,235.28 L299.30,243.02 L299.46,250.60 L299.63,257.91 L299.80,264.86 L299.98,271.41 L300.16,277.49 L300.34,283.10 L300.54,288.24 L300.73,292.95 L300.93,297.28 L301.14,301.28 L301.35,305.02 L301.56,308.55 L301.78,311.94 L302.01,315.23 L302.24,318.46 L302.47,321.67 L302.71,324.88 L302.96,328.09 L303.21,331.32 L303.47,334.57 L303.73,337.83 L304.00,341.10 L304.27,344.38 L304.55,347.65 L304.83,350.91 L305.12,354.13 L305.42,357.32 L305.72,360.46 L306.03,363.53 L306.35,366.53 L306.67,369.45 L306.99,372.29 L307.33,375.02 L307.67,377.66 L308.01,380.19 L308.36,382.60 L308.72,384.91 L309.09,387.10 L309.46,389.19 L309.84,391.16 L310.22,393.04 L310.61,394.82 L311.01,396.50 L311.41,398.11 L311.83,399.65 L312.25,401.12 L312.67,402.54 L313.10,403.92 L313.54,405.27 L313.99,406.59 L314.45,407.89 L314.91,409.19 L315.38,410.48 L315.85,411.78 L316.34,413.08 L316.83,414.39 L317.33,415.70 L317.84,417.03 L318.35,418.36 L318.87,419.70 L319.40,421.04 L319.94,422.39 L320.49,423.73 L321.04,425.07 L321.60,426.41 L322.17,427.73 L322.75,429.05 L323.34,430.35 L323.94,431.64 L324.54,432.90 L325.15,434.15 L325.77,435.37 L326.40,436.57 L327.04,437.74 L327.68,438.88 L328.34,439.99 L329.00,441.08 L329.68,442.13 L330.36,443.16 L331.05,444.16 L331.75,445.13 L332.46,446.08 L333.17,447.00 L333.90,447.91 L334.64,448.79 L335.38,449.65 L336.14,450.50 L336.90,451.33 L337.67,452.14 L338.46,452.93 L339.25,453.72 L340.05,454.48 L340.86,455.23 L341.69,455.97 L342.52,456.70 L343.36,457.41 L344.21,458.11 L345.07,458.80 L345.94,459.47 L346.83,460.13 L347.72,460.79 L348.62,461.43 L349.53,462.06 L350.46,462.68 L351.39,463.30 L352.33,463.90 L353.29,464.50 L354.25,465.09 L355.23,465.68 L356.21,466.26 L357.21,466.83 L358.22,467.40 L359.24,467.96 L360.27,468.51 L361.31,469.05 L362.36,469.59 L363.42,470.12 L364.49,470.64 L365.58,471.16 L366.68,471.66 L367.78,472.16 L368.90,472.64 L370.03,473.12 L371.18,473.59 L372.33,474.05 L373.50,474.50 L374.67,474.95 L375.86,475.39 L377.06,475.81 L378.28,476.23 L379.50,476.65 L380.74,477.05 L381.99,477.44 L383.25,477.82 L384.52,478.19 L385.80,478.55 L387.10,478.90 L388.41,479.24 L389.73,479.57 L391.07,479.89 L392.42,480.19 L393.77,480.48 L395.15,480.77 L396.53,481.04 L397.93,481.30 L399.34,481.56 L400.76,481.80 L402.20,482.04 L403.65,482.26 L405.11,482.47 L406.59,482.68 L408.08,482.87 L409.58,483.06 L411.09,483.23 L412.62,483.39 L414.16,483.54 L415.72,483.68 L417.29,483.81 L418.87,483.93 L420.47,484.04 L422.08,484.14 L423.70,484.23 L425.34,484.31 L426.99,484.38 L428.65,484.45 L430.33,484.51 L432.01,484.56 L433.71,484.60 L435.42,484.64 L437.15,484.67 L438.88,484.69 L440.61,484.70 L442.36,484.70 L444.11,484.69 L445.86,484.67 L447.61,484.64 L449.36,484.60 L451.11,484.54 L452.85,484.48 L454.59,484.40 L456.32,484.31 L458.04,484.20 L459.75,484.09 L461.45,483.96 L463.14,483.83 L464.82,483.68 L466.48,483.53 L468.13,483.37 L469.77,483.20 L471.39,483.03 L473.00,482.85 L474.60,482.66 L476.18,482.47 L477.75,482.28 L479.30,482.08 L480.84,481.87 L482.37,481.66 L483.89,481.44 L485.39,481.22 L486.88,480.99 L488.35,480.76 L489.82,480.51 L491.27,480.26 L492.70,480.01 L494.13,479.74 L495.54,479.47 L496.94,479.19 L498.32,478.90 L499.69,478.61 L501.05,478.30 L502.40,478.00 L503.73,477.68 L505.06,477.36 L506.37,477.03 L507.66,476.70 L508.95,476.36 L510.22,476.01 L511.48,475.66 L512.73,475.31 L513.97,474.95 L515.19,474.59 L516.40,474.22 L517.61,473.84 L518.79,473.46 L519.97,473.08 L521.14,472.69 L522.29,472.30 L523.43,471.89 L524.56,471.49 L525.68,471.07 L526.79,470.65 L527.89,470.21 L528.97,469.77 L530.05,469.32 L531.11,468.86 L532.16,468.38 L533.20,467.90 L534.23,467.40 L535.25,466.89 L536.26,466.37 L537.25,465.83 L538.24,465.29 L539.22,464.73 L540.18,464.16 L541.14,463.59 L542.08,463.00 L543.01,462.40 L543.94,461.79 L544.85,461.16 L545.75,460.53 L546.64,459.89 L547.52,459.23 L548.40,458.56 L549.26,457.88 L550.11,457.18 L550.95,456.47 L551.78,455.74 L552.60,455.00 L553.42,454.24 L554.22,453.47 L555.01,452.68 L555.79,451.87 L556.57,451.05 L557.33,450.22 L558.09,449.37 L558.83,448.51 L559.57,447.64 L560.29,446.76 L561.01,445.87 L561.72,444.96 L562.42,444.05 L563.11,443.12 L563.79,442.19 L564.46,441.24 L565.13,440.28 L565.78,439.30 L566.43,438.31 L567.07,437.31 L567.70,436.28 L568.32,435.24 L568.93,434.18 L569.53,433.09 L570.13,431.98 L570.71,430.85 L571.29,429.69 L571.86,428.50 L572.43,427.28 L572.98,426.03 L573.53,424.75 L574.06,423.44 L574.59,422.09 L575.12,420.71 L575.63,419.29 L576.14,417.84 L576.64,416.35 L577.13,414.81 L577.61,413.24 L578.09,411.62 L578.56,409.96 L579.02,408.25 L579.48,406.50 L579.92,404.68 L580.36,402.81 L580.80,400.88 L581.22,398.88 L581.64,396.82 L582.05,394.68 L582.46,392.46 L582.86,390.16 L583.25,387.78 L583.63,385.32 L584.01,382.78 L584.38,380.16 L584.75,377.46 L585.10,374.69 L585.46,371.85 L585.80,368.95 L586.14,366.00 L586.47,363.00 L586.80,359.96 L587.12,356.90 L587.44,353.82 L587.74,350.73 L588.05,347.66 L588.34,344.59 L588.63,341.56 L588.92,338.56 L589.20,335.60 L589.47,332.69 L589.74,329.82 L590.00,326.98 L590.26,324.19 L590.51,321.42 L590.76,318.67 L591.00,315.93 L591.23,313.19 L591.46,310.43 L591.69,307.65 L591.91,304.84 L592.12,301.98 L592.33,299.08 L592.54,296.12 L592.74,293.10 L592.93,290.03 L593.12,286.89 L593.31,283.68 L593.49,280.42 L593.67,277.10 L593.84,273.74 L594.01,270.33 L594.17,266.89 L594.33,263.42 L594.48,259.95 L594.63,256.48 L594.78,253.02 L594.92,249.59 L595.06,246.20 L595.20,242.85 L595.33,239.56 L595.45,236.34 L595.58,233.19 L595.70,230.10 L595.81,227.09 L595.92,224.14 L596.03,221.25 L596.14,218.42 L596.24,215.63 L596.33,212.88 L596.43,210.16 L596.52,207.46 L596.61,204.76 L596.69,202.07 L596.77,199.37 L596.85,196.67 L596.93,193.94 L597.00,191.19 L597.07,188.40 L597.14,185.59 L597.20,182.73 L597.26,179.82 L597.32,176.87 L597.38,173.85 L597.43,170.76 L597.48,167.61 L597.53,164.38 L597.58,161.09 L597.62,157.71 L597.67,154.28 L597.71,150.79 L597.75,147.26 L597.78,143.71 L597.81,140.15 L597.85,136.60 L597.88,133.10 L597.91,129.66 L597.93,126.29 L597.96,123.04 L597.98,119.90 L598.00,116.90 L598.02,114.04 L598.04,111.35 L598.06,108.82 L598.07,106.45 L598.09,104.26 L598.10,102.23 L598.11,100.37 L598.12,98.68 L598.13,97.14 L598.14,95.75 L598.15,94.50 L598.16,93.39 L598.16,92.40 L598.17,91.53 L598.18,90.77 L598.18,90.12 L598.18,89.55 L598.19,89.07 L598.19,88.66 L598.19,88.32 L598.19,88.03 L598.19,87.80 L598.20,87.61 L598.20,87.47 L598.20,87.35 L598.20,87.00 L598.20,87.00 L598.20,87.02 L598.20,87.03 L598.20,87.04 L598.20,87.05 L598.20,87.07 L598.20,87.08 L598.20,87.11 L598.20,87.13 L598.20,87.16 L598.20,87.20 L598.20,87.24 L598.20,87.29 L598.21,87.34 L598.21,87.40 L598.21,87.47 L598.21,87.55 L598.21,87.64 L598.21,87.73 L598.21,87.84 L598.22,87.96 L598.22,88.09 L598.22,88.23 L598.22,88.38 L598.23,88.55 L598.23,88.73 L598.23,88.92 L598.24,89.13 L598.24,89.36 L598.24,89.59 L598.25,89.85 L598.25,90.12 L598.26,90.41 L598.26,90.72 L598.27,91.05 L598.28,91.39 L598.28,91.75 L598.29,92.14 L598.30,92.54 L598.30,92.97 L598.31,93.42 L598.32,93.88 L598.33,94.38 L598.34,94.89 L598.35,95.43 L598.36,95.99 L598.37,96.58 L598.38,97.19 L598.39,97.82 L598.40,98.48 L598.41,99.17 L598.43,99.88 L598.44,100.63 L598.45,101.39 L598.47,102.19 L598.48,103.01 L598.50,103.87 L598.51,104.75 L598.53,105.66 L598.55,106.60 L598.56,107.57 L598.58,108.57 L598.60,109.60 L598.62,110.66 L598.64,111.75 L598.66,112.87 L598.68,114.03 L598.70,115.21 L598.73,116.43 L598.75,117.68 L598.77,118.96 L598.80,120.27 L598.82,121.61 L598.85,122.99 L598.87,124.39 L598.90,125.83 L598.93,127.30 L598.96,128.80 L598.99,130.34 L599.02,131.90 L599.05,133.50 L599.08,135.12 L599.11,136.78 L599.15,138.46 L599.18,140.18 L599.22,141.92 L599.25,143.69 L599.29,145.49 L599.33,147.32 L599.37,149.17 L599.41,151.05 L599.45,152.95 L599.49,154.87 L599.53,156.81 L599.57,158.78 L599.62,160.76 L599.66,162.76 L599.71,164.78 L599.75,166.81 L599.80,168.85 L599.85,170.91 L599.90,172.98 L599.95,175.06 L600.00,177.16 L600.05,179.27 L600.11,181.39 L600.16,183.54 L600.22,185.69 L600.28,187.87 L600.33,190.08 L600.39,192.31 L600.45,194.57 L600.51,196.87 L600.57,199.21 L600.64,201.59 L600.70,204.04 L600.77,206.54 L600.83,209.12 L600.90,211.77 L600.97,214.52 L601.04,217.36 L601.11,220.31 L601.19,223.37 L601.26,226.55 L601.33,229.86 L601.41,233.28 L601.49,236.81 L601.57,240.45 L601.65,244.15 L601.73,247.92 L601.81,251.70 L601.89,255.47 L601.98,259.19 L602.06,262.82 L602.15,266.32 L602.24,269.67 L602.33,272.83 L602.42,275.79 L602.51,278.54 L602.61,281.06 L602.70,283.37 L602.80,285.47 L602.90,287.38 L603.00,289.11 L603.10,290.69 L603.20,292.13 L603.31,293.46 L603.41,294.69 L603.52,295.83 L603.63,296.90 L603.74,297.91 L603.85,298.87 L603.96,299.79 L604.07,300.67 L604.19,301.51 L604.31,302.32 L604.42,303.10 L604.54,303.86 L604.67,304.59 L604.79,305.31 L604.91,306.00 L605.04,306.69 L605.17,307.36 L605.30,308.02 L605.43,308.68 L605.56,309.33 L605.70,309.98 L605.83,310.64 L605.97,311.30 L606.11,311.97 L606.25,312.65 L606.39,313.33 L606.54,314.03 L606.68,314.74 L606.83,315.46 L606.98,316.19 L607.13,316.92 L607.28,317.67 L607.44,318.42 L607.59,319.18 L607.75,319.94 L607.91,320.70 L608.07,321.46 L608.23,322.22 L608.40,322.98 L608.57,323.73 L608.74,324.49 L608.91,325.23 L609.08,325.97 L609.25,326.71 L609.43,327.44 L609.61,328.17 L609.79,328.89 L609.97,329.60 L610.15,330.31 L610.34,331.01 L610.52,331.70 L610.71,332.40 L610.90,333.08 L611.10,333.77 L611.29,334.45 L611.49,335.13 L611.69,335.80 L611.89,336.48 L612.09,337.15 L612.30,337.82 L612.50,338.48 L612.71,339.15 L612.92,339.81 L613.14,340.47 L613.35,341.12 L613.57,341.76 L613.79,342.40 L614.01,343.03 L614.23,343.65 L614.46,344.26 L614.69,344.86 L614.92,345.45 L615.15,346.02 L615.38,346.57 L615.62,347.11 L615.86,347.63 L616.10,348.13 L616.34,348.61 L616.58,349.08 L616.83,349.53 L617.08,349.95 L617.33,350.36 L617.59,350.76 L617.84,351.14 L618.10,351.50 L618.36,351.85 L618.62,352.20 L618.89,352.53 L619.15,352.85 L619.42,353.16 L619.70,353.47 L619.97,353.76 L620.25,354.06 L620.52,354.35 L620.81,354.63 L621.09,354.91 L621.37,355.18 L621.66,355.45 L621.95,355.72 L622.25,355.98 L622.54,356.24 L622.84,356.49 L623.14,356.74 L623.44,356.98 L623.75,357.23 L624.05,357.46 L624.36,357.70 L624.68,357.93 L624.99,358.16 L625.31,358.38 L625.63,358.60 L625.95,358.82 L626.28,359.04 L626.60,359.25 L626.93,359.46 L627.27,359.67 L627.60,359.87 L627.94,360.08 L628.28,360.28 L628.62,360.48 L628.97,360.68 L629.31,360.87 L629.66,361.07 L630.02,361.26 L630.37,361.46 L630.73,361.65 L631.09,361.85 L631.46,362.04 L631.82,362.23 L632.19,362.43 L632.56,362.62 L632.94,362.81 L633.32,363.01 L633.70,363.20 L634.08,363.40 L634.46,363.59 L634.85,363.79 L635.24,363.98 L635.64,364.18 L636.03,364.37 L636.43,364.57 L636.83,364.76 L637.24,364.96 L637.65,365.15 L638.06,365.35 L638.47,365.54 L638.89,365.73 L639.31,365.92 L639.73,366.11 L640.15,366.29 L640.58,366.48 L641.01,366.66 L641.45,366.84 L641.88,367.02 L642.32,367.19 L642.76,367.37 L643.21,367.53 L643.66,367.70 L644.11,367.86 L644.56,368.02 L645.02,368.17 L645.48,368.32 L645.94,368.46 L646.41,368.60 L646.88,368.73 L647.35,368.86 L647.83,368.98 L648.30,369.10 L648.79,369.21 L649.27,369.32 L649.76,369.42 L650.25,369.51 L650.74,369.60 L651.24,369.69 L651.74,369.77 L652.24,369.85 L652.75,369.93 L653.26,370.00 L653.77,370.07 L654.29,370.14 L654.81,370.20 L655.33,370.27 L655.85,370.33 L656.38,370.40 L656.91,370.46 L657.45,370.52 L657.99,370.58 L658.53,370.64 L659.07,370.70 L659.62,370.76 L660.17,370.82 L660.73,370.88 L661.29,370.94 L661.85,371.00 L662.41,371.05 L662.98,371.11 L663.55,371.17 L664.12,371.23 L664.70,371.28 L665.28,371.34 L665.87,371.39 L666.46,371.45 L667.05,371.50 L667.64,371.55 L668.24,371.60 L668.84,371.66 L669.45,371.71 L670.06,371.76 L670.67,371.81 L671.28,371.86 L671.90,371.91 L672.53,371.96 L673.15,372.00 L673.78,372.05 L674.41,372.09 L675.05,372.14 L675.69,372.18 L676.33,372.23 L676.98,372.27 L677.63,372.31 L678.29,372.35 L678.94,372.39 L679.61,372.43 L680.27,372.47 L680.94,372.51 L681.61,372.54 L682.29,372.58 L682.97,372.61 L683.65,372.65 L684.34,372.68 L685.03,372.71 L685.72,372.74 L686.42,372.77 L687.12,372.80 L687.83,372.82 L688.54,372.85 L689.25,372.87 L689.97,372.90 L690.69,372.92 L691.41,372.94 L692.14,372.96 L692.87,372.97 L693.61,372.99 L694.34,373.01 L695.09,373.02 L695.83,373.03 L696.59,373.05 L697.34,373.06 L698.10,373.07 L698.86,373.07 L699.63,373.08 L700.40,373.09 L701.17,373.10 L701.95,373.10 L702.73,373.11 L703.52,373.11 L704.30,373.11 L705.10,373.12 L705.90,373.12 L706.70,373.13 L707.50,373.13 L708.31,373.13 L709.12,373.14 L709.94,373.14 L710.76,373.14 L711.59,373.15 L712.42,373.15 L713.25,373.15 L714.09,373.16 L714.93,373.16 L715.78,373.16 L716.63,373.16 L717.48,373.17 L718.34,373.17 L719.20,373.17 L720.06,373.18 L720.93,373.18 L721.81,373.18 L722.69,373.18 L723.57,373.19 L724.46,373.19 L725.35,373.19 L726.24,373.19 L727.14,373.20 L728.04,373.20 L728.95,373.20 L729.86,373.21 L730.78,373.21 L731.70,373.21 L732.63,373.21 L733.55,373.22 L734.49,373.22 L735.42,373.22 L736.37,373.22 L737.31,373.23 L738.26,373.23 L739.22,373.23 L740.18,373.23 L741.14,373.23 L742.11,373.24 L743.08,373.24 L744.06,373.24 L745.04,373.24 L746.02,373.24 L747.01,373.25 L748.00,373.25 L749.00,373.25 L750.01,373.25 L751.01,373.25 L752.02,373.26 L753.04,373.26 L754.06,373.26 L755.09,373.26 L756.12,373.26 L757.15,373.27 L758.19,373.27 L759.23,373.27 L760.28,373.27 L761.33,373.27 L762.39,373.27 L763.45,373.27 L764.52,373.28 L765.59,373.28 L766.66,373.28 L767.74,373.28 L768.82,373.28 L769.91,373.28 L771.01,373.28 L772.10,373.28 L773.21,373.29 L774.31,373.29 L775.43,373.29 L776.54,373.29 L777.66,373.29 L778.79,373.29 L779.92,373.29 L781.05,373.29 L782.19,373.29 L783.33,373.29 L784.47,373.29 L785.61,373.30 L786.74,373.30 L787.87,373.30 L788.99,373.30 L790.10,373.30 L791.18,373.30 L792.23,373.30 L793.25,373.30 L794.22,373.30 L795.14,373.30 L795.99,373.30 L796.78,373.30 L797.50,373.30 L801.00,373.30" fill="none" stroke="#00ff00" stroke-width="9" stroke-linejoin="round" stroke-linecap="butt"/>
<line x1="336.65" y1="243.7" x2="391.4" y2="243.7" stroke="#00ff00" stroke-width="9.5" stroke-linecap="round"/>
<line x1="336.65" y1="277" x2="391.4" y2="277" stroke="#8000ff" stroke-width="9.5" stroke-linecap="round"/>
<rect x="265.90" y="546.8" width="5.5" height="5" fill="#000"/>
<rect x="443.35" y="546.8" width="5.5" height="5" fill="#000"/>
<rect x="620.80" y="546.8" width="5.5" height="5" fill="#000"/>
<text transform="translate(61.56,567.50) scale(1.0400,1.0)" font-family="'Liberation Sans', sans-serif" font-weight="bold" font-size="33.50">0</text>
<text transform="translate(61.56,502.80) scale(1.0400,1.0)" font-family="'Liberation Sans', sans-serif" font-weight="bold" font-size="33.50">2</text>
<text transform="translate(60.34,438.10) scale(1.0400,1.0)" font-family="'Liberation Sans', sans-serif" font-weight="bold" font-size="33.50">4</text>
<text transform="translate(61.38,373.40) scale(1.0400,1.0)" font-family="'Liberation Sans', sans-serif" font-weight="bold" font-size="33.50">6</text>
<text transform="translate(61.21,308.70) scale(1.0400,1.0)" font-family="'Liberation Sans', sans-serif" font-weight="bold" font-size="33.50">8</text>
<text transform="translate(42.22,244.00) scale(1.0400,1.0)" font-family="'Liberation Sans', sans-serif" font-weight="bold" font-size="33.50">10</text>
<text transform="translate(42.22,179.30) scale(1.0400,1.0)" font-family="'Liberation Sans', sans-serif" font-weight="bold" font-size="33.50">12</text>
<text transform="translate(41.00,114.60) scale(1.0400,1.0)" font-family="'Liberation Sans', sans-serif" font-weight="bold" font-size="33.50">14</text>
<text transform="translate(42.05,49.90) scale(1.0400,1.0)" font-family="'Liberation Sans', sans-serif" font-weight="bold" font-size="33.50">16</text>
<text transform="translate(81.73,584.30) scale(1.0500,1.0)" font-family="'Liberation Sans', sans-serif" font-weight="bold" font-size="32.50">0</text>
<text transform="translate(259.27,584.30) scale(1.0500,1.0)" font-family="'Liberation Sans', sans-serif" font-weight="bold" font-size="32.50">2</text>
<text transform="translate(436.46,584.30) scale(1.0500,1.0)" font-family="'Liberation Sans', sans-serif" font-weight="bold" font-size="32.50">4</text>
<text transform="translate(614.08,584.30) scale(1.0500,1.0)" font-family="'Liberation Sans', sans-serif" font-weight="bold" font-size="32.50">6</text>
<text transform="translate(791.53,584.30) scale(1.0500,1.0)" font-family="'Liberation Sans', sans-serif" font-weight="bold" font-size="32.50">8</text>
<text transform="translate(93.84,34.30) scale(0.9399,1.0)" font-family="'Liberation Sans', sans-serif" font-weight="normal" font-size="29.50">(a)</text>
<text transform="translate(137.86,33.90) scale(0.9705,1.0)" font-family="'Liberation Sans', sans-serif" font-weight="bold" font-size="30.80">Insulator</text>
<text transform="translate(403.40,33.70) scale(0.9624,1.0)" font-family="'Liberation Sans', sans-serif" font-weight="bold" font-size="30.30">Mesa</text>
<text transform="translate(633.94,33.70) scale(0.9847,1.0)" font-family="'Liberation Sans', sans-serif" font-weight="bold" font-size="30.60">Insulator</text>
<text transform="translate(622.99,85.80) scale(1.0862,1.0)" font-family="'Liberation Serif', sans-serif" font-weight="bold" font-size="31.50">@</text>
<text transform="translate(662.08,85.80) scale(0.9741,1.0)" font-family="'Liberation Sans', sans-serif" font-weight="bold" font-size="31.40">-1100 V</text>
<text transform="translate(106.69,530.40) scale(0.9976,1.0)" font-family="'Liberation Sans', sans-serif" font-weight="bold" font-size="29.50">Donor-type traps (cm</text>
<text transform="translate(405.78,518.50) scale(0.8825,1.0)" font-family="'Liberation Sans', sans-serif" font-weight="bold" font-size="20.30">-3</text>
<text transform="translate(423.90,530.40) scale(0.8088,1.0)" font-family="'Liberation Sans', sans-serif" font-weight="bold" font-size="29.50">)</text>
<text transform="translate(406.17,253.80) scale(0.9458,1.0)" font-family="'Liberation Sans', sans-serif" font-weight="bold" font-size="28.80">1 x 10</text>
<text transform="translate(482.85,242.20) scale(0.9783,1.0)" font-family="'Liberation Sans', sans-serif" font-weight="bold" font-size="17.90">14</text>
<text transform="translate(503.42,253.80) scale(0.9882,1.0)" font-family="'Liberation Sans', sans-serif" font-weight="bold" font-size="28.80">/cm</text>
<text transform="translate(552.90,242.80) scale(0.9029,1.0)" font-family="'Liberation Sans', sans-serif" font-weight="bold" font-size="17.90">3</text>
<text transform="translate(406.17,286.30) scale(0.9458,1.0)" font-family="'Liberation Sans', sans-serif" font-weight="bold" font-size="28.80">1 x 10</text>
<text transform="translate(482.82,274.70) scale(1.0072,1.0)" font-family="'Liberation Sans', sans-serif" font-weight="bold" font-size="17.90">16</text>
<text transform="translate(503.42,286.30) scale(0.9882,1.0)" font-family="'Liberation Sans', sans-serif" font-weight="bold" font-size="28.80">/cm</text>
<text transform="translate(552.90,275.30) scale(0.9029,1.0)" font-family="'Liberation Sans', sans-serif" font-weight="bold" font-size="17.90">3</text>
<text transform="translate(219.94,627.50) scale(1.0065,1.0)" font-family="'Liberation Sans', sans-serif" font-weight="bold" font-size="32.40">Vertical relative position (µm)</text>
<text transform="translate(25.50,456.71) rotate(-90) scale(0.9853,1)" font-family="'Liberation Sans', sans-serif" font-weight="bold" font-size="36.00">Electric field (MV/cm)</text>
<rect x="930.7" y="549.85" width="8.5" height="5.5" fill="#000"/>
<rect x="930.7" y="518.45" width="4.7" height="5.5" fill="#000"/>
<rect x="930.7" y="487.05" width="8.5" height="5.5" fill="#000"/>
<rect x="930.7" y="455.65" width="4.7" height="5.5" fill="#000"/>
<rect x="930.7" y="424.25" width="8.5" height="5.5" fill="#000"/>
<rect x="930.7" y="392.85" width="4.7" height="5.5" fill="#000"/>
<rect x="930.7" y="361.45" width="8.5" height="5.5" fill="#000"/>
<rect x="930.7" y="330.05" width="4.7" height="5.5" fill="#000"/>
<rect x="930.7" y="298.65" width="8.5" height="5.5" fill="#000"/>
<rect x="930.7" y="267.25" width="4.7" height="5.5" fill="#000"/>
<rect x="930.7" y="235.85" width="8.5" height="5.5" fill="#000"/>
<rect x="930.7" y="204.45" width="4.7" height="5.5" fill="#000"/>
<rect x="930.7" y="173.05" width="8.5" height="5.5" fill="#000"/>
<rect x="930.7" y="141.65" width="4.7" height="5.5" fill="#000"/>
<rect x="930.7" y="110.25" width="8.5" height="5.5" fill="#000"/>
<rect x="930.7" y="78.85" width="4.7" height="5.5" fill="#000"/>
<rect x="930.7" y="47.45" width="8.5" height="5.5" fill="#000"/>
<rect x="930.7" y="16.05" width="4.7" height="5.5" fill="#000"/>
<rect x="930.7" y="2" width="224.30" height="42.4" fill="#00f0f0"/>
<rect x="1155.00" y="2" width="265.70" height="42.4" fill="#ffff00"/>
<rect x="1420.70" y="2" width="219.60" height="42.4" fill="#00f0f0"/>
<rect x="1513.2" y="422.2" width="37.1" height="36" fill="#e6e6e6"/>
<rect x="1478.5" y="457.5" width="107.2" height="66.1" fill="#e6e6e6"/>
<line x1="1470.1" y1="464.8" x2="1596.3" y2="464.8" stroke="#e03030" stroke-width="2.4" stroke-dasharray="6.3 4"/>
<path d="M931.50,2.45 H1640.30 M930.70,3.5 V551.40 M931.20,552.00 H1640.30 M1640.30,2.8 V550.50" fill="none" stroke="#000" stroke-width="5.7" stroke-linecap="butt"/>
<path d="M930.70,362.60 L934.23,362.60 L934.94,362.60 L935.74,362.60 L936.60,362.60 L937.52,362.60 L938.50,362.60 L939.52,362.60 L940.58,362.60 L941.67,362.60 L942.78,362.60 L943.91,362.59 L945.04,362.59 L946.19,362.59 L947.33,362.59 L948.48,362.59 L949.62,362.59 L950.77,362.59 L951.91,362.59 L953.04,362.59 L954.18,362.58 L955.30,362.58 L956.43,362.58 L957.55,362.58 L958.66,362.58 L959.77,362.58 L960.87,362.58 L961.97,362.57 L963.07,362.57 L964.16,362.57 L965.24,362.57 L966.33,362.57 L967.40,362.56 L968.47,362.56 L969.54,362.56 L970.61,362.56 L971.66,362.55 L972.72,362.55 L973.77,362.55 L974.81,362.55 L975.85,362.54 L976.89,362.54 L977.92,362.54 L978.95,362.54 L979.97,362.53 L980.98,362.53 L982.00,362.53 L983.01,362.52 L984.01,362.52 L985.01,362.52 L986.01,362.51 L987.00,362.51 L987.98,362.51 L988.97,362.51 L989.94,362.50 L990.92,362.50 L991.89,362.49 L992.85,362.49 L993.81,362.49 L994.77,362.48 L995.72,362.48 L996.67,362.48 L997.61,362.47 L998.55,362.47 L999.48,362.46 L1000.41,362.46 L1001.34,362.46 L1002.26,362.45 L1003.18,362.45 L1004.09,362.44 L1005.00,362.44 L1005.90,362.44 L1006.80,362.43 L1007.70,362.43 L1008.59,362.42 L1009.48,362.42 L1010.36,362.41 L1011.24,362.41 L1012.12,362.41 L1012.99,362.40 L1013.86,362.40 L1014.72,362.39 L1015.58,362.39 L1016.43,362.38 L1017.28,362.38 L1018.13,362.37 L1018.97,362.37 L1019.81,362.36 L1020.64,362.36 L1021.48,362.35 L1022.30,362.35 L1023.12,362.34 L1023.94,362.34 L1024.76,362.33 L1025.57,362.33 L1026.37,362.32 L1027.17,362.31 L1027.97,362.30 L1028.77,362.30 L1029.56,362.29 L1030.34,362.28 L1031.13,362.27 L1031.90,362.26 L1032.68,362.25 L1033.45,362.23 L1034.22,362.22 L1034.98,362.20 L1035.74,362.19 L1036.49,362.17 L1037.24,362.15 L1037.99,362.13 L1038.74,362.11 L1039.48,362.09 L1040.21,362.06 L1040.94,362.04 L1041.67,362.01 L1042.40,361.99 L1043.12,361.96 L1043.83,361.93 L1044.55,361.91 L1045.26,361.88 L1045.96,361.85 L1046.67,361.82 L1047.36,361.79 L1048.06,361.76 L1048.75,361.73 L1049.44,361.69 L1050.12,361.66 L1050.80,361.63 L1051.48,361.59 L1052.15,361.55 L1052.82,361.52 L1053.48,361.48 L1054.15,361.44 L1054.80,361.40 L1055.46,361.36 L1056.11,361.31 L1056.76,361.27 L1057.40,361.22 L1058.04,361.18 L1058.68,361.13 L1059.31,361.08 L1059.94,361.02 L1060.57,360.97 L1061.19,360.92 L1061.81,360.86 L1062.42,360.81 L1063.04,360.75 L1063.65,360.69 L1064.25,360.63 L1064.85,360.57 L1065.45,360.50 L1066.05,360.44 L1066.64,360.37 L1067.23,360.31 L1067.81,360.24 L1068.39,360.16 L1068.97,360.09 L1069.54,360.02 L1070.12,359.94 L1070.68,359.86 L1071.25,359.78 L1071.81,359.70 L1072.37,359.61 L1072.92,359.53 L1073.47,359.44 L1074.02,359.34 L1074.57,359.25 L1075.11,359.15 L1075.65,359.06 L1076.18,358.95 L1076.71,358.85 L1077.24,358.75 L1077.77,358.64 L1078.29,358.53 L1078.81,358.41 L1079.32,358.30 L1079.84,358.18 L1080.34,358.05 L1080.85,357.93 L1081.35,357.80 L1081.85,357.67 L1082.35,357.53 L1082.84,357.39 L1083.33,357.25 L1083.82,357.11 L1084.31,356.96 L1084.79,356.81 L1085.27,356.66 L1085.74,356.51 L1086.21,356.35 L1086.68,356.19 L1087.15,356.03 L1087.61,355.87 L1088.07,355.70 L1088.53,355.54 L1088.98,355.37 L1089.43,355.20 L1089.88,355.03 L1090.33,354.86 L1090.77,354.69 L1091.21,354.51 L1091.64,354.34 L1092.08,354.16 L1092.51,353.98 L1092.93,353.81 L1093.36,353.63 L1093.78,353.45 L1094.20,353.27 L1094.61,353.08 L1095.03,352.90 L1095.44,352.71 L1095.84,352.52 L1096.25,352.33 L1096.65,352.14 L1097.05,351.95 L1097.45,351.75 L1097.84,351.55 L1098.23,351.35 L1098.62,351.15 L1099.00,350.94 L1099.38,350.73 L1099.76,350.51 L1100.14,350.30 L1100.51,350.08 L1100.89,349.86 L1101.25,349.63 L1101.62,349.41 L1101.98,349.18 L1102.34,348.95 L1102.70,348.71 L1103.06,348.47 L1103.41,348.24 L1103.76,347.99 L1104.11,347.75 L1104.45,347.50 L1104.79,347.26 L1105.13,347.00 L1105.47,346.75 L1105.81,346.49 L1106.14,346.23 L1106.47,345.97 L1106.79,345.70 L1107.12,345.43 L1107.44,345.16 L1107.76,344.88 L1108.08,344.60 L1108.39,344.31 L1108.70,344.02 L1109.01,343.72 L1109.32,343.42 L1109.62,343.12 L1109.92,342.80 L1110.22,342.49 L1110.52,342.16 L1110.82,341.84 L1111.11,341.50 L1111.40,341.16 L1111.68,340.81 L1111.97,340.46 L1112.25,340.10 L1112.53,339.73 L1112.81,339.35 L1113.09,338.97 L1113.36,338.58 L1113.63,338.19 L1113.90,337.78 L1114.17,337.37 L1114.43,336.96 L1114.69,336.53 L1114.95,336.11 L1115.21,335.67 L1115.46,335.23 L1115.72,334.78 L1115.97,334.33 L1116.22,333.87 L1116.46,333.41 L1116.71,332.94 L1116.95,332.47 L1117.19,331.99 L1117.43,331.51 L1117.66,331.02 L1117.89,330.53 L1118.13,330.03 L1118.35,329.53 L1118.58,329.02 L1118.81,328.51 L1119.03,327.98 L1119.25,327.46 L1119.47,326.92 L1119.68,326.37 L1119.90,325.82 L1120.11,325.26 L1120.32,324.69 L1120.53,324.11 L1120.73,323.52 L1120.94,322.93 L1121.14,322.32 L1121.34,321.70 L1121.54,321.08 L1121.74,320.45 L1121.93,319.81 L1122.12,319.17 L1122.31,318.51 L1122.50,317.85 L1122.69,317.19 L1122.87,316.52 L1123.05,315.84 L1123.24,315.16 L1123.41,314.47 L1123.59,313.78 L1123.77,313.08 L1123.94,312.38 L1124.11,311.67 L1124.28,310.96 L1124.45,310.24 L1124.62,309.51 L1124.78,308.77 L1124.94,308.03 L1125.10,307.28 L1125.26,306.51 L1125.42,305.74 L1125.57,304.96 L1125.73,304.17 L1125.88,303.37 L1126.03,302.55 L1126.18,301.72 L1126.32,300.88 L1126.47,300.03 L1126.61,299.16 L1126.75,298.28 L1126.89,297.38 L1127.03,296.47 L1127.17,295.54 L1127.31,294.59 L1127.44,293.62 L1127.57,292.63 L1127.70,291.62 L1127.83,290.58 L1127.96,289.53 L1128.08,288.45 L1128.21,287.35 L1128.33,286.23 L1128.45,285.08 L1128.57,283.90 L1128.69,282.70 L1128.80,281.48 L1128.92,280.22 L1129.03,278.95 L1129.14,277.64 L1129.25,276.31 L1129.36,274.96 L1129.47,273.58 L1129.57,272.18 L1129.68,270.75 L1129.78,269.31 L1129.88,267.85 L1129.98,266.37 L1130.08,264.88 L1130.18,263.38 L1130.28,261.87 L1130.37,260.35 L1130.46,258.82 L1130.56,257.30 L1130.65,255.77 L1130.74,254.24 L1130.82,252.72 L1130.91,251.19 L1131.00,249.67 L1131.08,248.16 L1131.16,246.65 L1131.24,245.14 L1131.32,243.64 L1131.40,242.15 L1131.48,240.65 L1131.56,239.17 L1131.63,237.68 L1131.71,236.20 L1131.78,234.73 L1131.85,233.25 L1131.92,231.78 L1131.99,230.31 L1132.06,228.85 L1132.13,227.38 L1132.19,225.92 L1132.26,224.46 L1132.32,223.00 L1132.38,221.54 L1132.44,220.09 L1132.51,218.64 L1132.56,217.19 L1132.62,215.74 L1132.68,214.30 L1132.74,212.87 L1132.79,211.45 L1132.84,210.03 L1132.90,208.63 L1132.95,207.24 L1133.00,205.86 L1133.05,204.51 L1133.10,203.17 L1133.15,201.85 L1133.19,200.56 L1133.24,199.29 L1133.29,198.05 L1133.33,196.83 L1133.37,195.64 L1133.42,194.47 L1133.46,193.31 L1133.50,192.18 L1133.54,191.06 L1133.58,189.95 L1133.61,188.84 L1133.65,187.74 L1133.69,186.64 L1133.72,185.53 L1133.76,184.41 L1133.79,183.29 L1133.82,182.14 L1133.86,180.99 L1133.89,179.81 L1133.92,178.62 L1133.95,177.41 L1133.98,176.17 L1134.00,174.92 L1134.03,173.65 L1134.06,172.36 L1134.08,171.05 L1134.11,169.73 L1134.13,168.38 L1134.16,167.02 L1134.18,165.64 L1134.20,164.23 L1134.23,162.80 L1134.25,161.34 L1134.27,159.85 L1134.29,158.31 L1134.31,156.72 L1134.33,155.07 L1134.34,153.35 L1134.36,151.53 L1134.38,149.62 L1134.40,147.61 L1134.41,145.47 L1134.43,143.22 L1134.44,140.83 L1134.46,138.33 L1134.47,135.70 L1134.48,132.96 L1134.50,130.13 L1134.51,127.21 L1134.52,124.22 L1134.53,121.19 L1134.54,118.13 L1134.55,115.06 L1134.56,112.01 L1134.57,108.99 L1134.58,106.01 L1134.59,103.09 L1134.60,100.25 L1134.61,97.49 L1134.61,94.82 L1134.62,92.26 L1134.63,89.80 L1134.63,87.45 L1134.64,85.21 L1134.65,83.09 L1134.65,81.07 L1134.66,79.18 L1134.66,77.39 L1134.66,75.71 L1134.67,74.15 L1134.67,72.68 L1134.68,71.32 L1134.68,70.06 L1134.68,68.89 L1134.69,67.81 L1134.69,66.81 L1134.69,65.90 L1134.69,65.07 L1134.70,64.32 L1134.70,63.63 L1134.70,63.01 L1134.70,62.46 L1134.70,61.96 L1134.70,61.52 L1134.70,61.13 L1134.71,60.79 L1134.71,60.49 L1134.71,60.23 L1134.71,60.00 L1134.71,59.81 L1134.71,59.65 L1134.71,59.52 L1134.71,59.41 L1134.71,59.32 L1134.71,59.24 L1134.71,59.18 L1134.71,59.14 L1134.71,59.00 L1134.71,59.00 L1134.71,59.00 L1134.71,59.00 L1134.71,59.00 L1134.72,59.00 L1134.72,59.00 L1134.72,59.00 L1134.72,59.00 L1134.72,59.00 L1134.73,59.00 L1134.73,59.00 L1134.73,59.00 L1134.74,59.00 L1134.74,59.00 L1134.75,59.00 L1134.76,59.01 L1134.77,59.01 L1134.78,59.01 L1134.79,59.01 L1134.80,59.01 L1134.81,59.02 L1134.82,59.02 L1134.84,59.03 L1134.85,59.03 L1134.87,59.04 L1134.89,59.05 L1134.91,59.06 L1134.93,59.07 L1134.95,59.09 L1134.98,59.11 L1135.00,59.13 L1135.03,59.15 L1135.06,59.18 L1135.09,59.22 L1135.13,59.26 L1135.16,59.30 L1135.20,59.35 L1135.24,59.42 L1135.28,59.49 L1135.33,59.58 L1135.37,59.69 L1135.42,59.83 L1135.47,60.00 L1135.53,60.23 L1135.58,60.53 L1135.64,60.93 L1135.70,61.46 L1135.77,62.17 L1135.83,63.12 L1135.90,64.36 L1135.98,65.96 L1136.05,68.02 L1136.13,70.59 L1136.21,73.77 L1136.30,77.61 L1136.38,82.17 L1136.47,87.48 L1136.57,93.54 L1136.67,100.33 L1136.77,107.81 L1136.87,115.89 L1136.98,124.49 L1137.09,133.48 L1137.20,142.75 L1137.32,152.18 L1137.44,161.64 L1137.57,171.05 L1137.70,180.29 L1137.83,189.31 L1137.97,198.04 L1138.11,206.45 L1138.26,214.52 L1138.41,222.22 L1138.56,229.58 L1138.72,236.59 L1138.88,243.28 L1139.05,249.66 L1139.22,255.77 L1139.40,261.63 L1139.58,267.27 L1139.76,272.71 L1139.95,277.99 L1140.15,283.10 L1140.35,288.09 L1140.55,292.96 L1140.76,297.72 L1140.98,302.38 L1141.19,306.96 L1141.42,311.45 L1141.65,315.88 L1141.88,320.24 L1142.12,324.54 L1142.37,328.79 L1142.62,333.00 L1142.87,337.16 L1143.13,341.26 L1143.40,345.32 L1143.67,349.31 L1143.95,353.22 L1144.23,357.04 L1144.52,360.74 L1144.82,364.32 L1145.12,367.75 L1145.43,371.01 L1145.74,374.10 L1146.06,377.02 L1146.38,379.76 L1146.72,382.31 L1147.05,384.70 L1147.40,386.93 L1147.75,389.01 L1148.10,390.95 L1148.47,392.78 L1148.84,394.50 L1149.21,396.12 L1149.60,397.66 L1149.99,399.14 L1150.38,400.55 L1150.79,401.92 L1151.20,403.24 L1151.61,404.52 L1152.04,405.77 L1152.47,407.00 L1152.91,408.20 L1153.35,409.39 L1153.80,410.55 L1154.26,411.71 L1154.73,412.85 L1155.20,413.99 L1155.69,415.11 L1156.18,416.23 L1156.67,417.33 L1157.18,418.43 L1157.69,419.51 L1158.21,420.59 L1158.74,421.66 L1159.27,422.71 L1159.82,423.76 L1160.37,424.79 L1160.93,425.81 L1161.50,426.83 L1162.07,427.83 L1162.66,428.82 L1163.25,429.80 L1163.85,430.78 L1164.46,431.74 L1165.08,432.69 L1165.70,433.63 L1166.34,434.56 L1166.98,435.48 L1167.63,436.39 L1168.29,437.29 L1168.96,438.17 L1169.64,439.03 L1170.33,439.88 L1171.03,440.71 L1171.73,441.52 L1172.45,442.31 L1173.17,443.08 L1173.90,443.84 L1174.64,444.57 L1175.40,445.28 L1176.16,445.98 L1176.93,446.65 L1177.71,447.31 L1178.50,447.96 L1179.29,448.58 L1180.10,449.20 L1180.92,449.80 L1181.75,450.40 L1182.59,450.99 L1183.43,451.57 L1184.29,452.15 L1185.16,452.73 L1186.04,453.30 L1186.93,453.88 L1187.82,454.46 L1188.73,455.04 L1189.65,455.62 L1190.58,456.21 L1191.52,456.81 L1192.47,457.41 L1193.43,458.01 L1194.40,458.62 L1195.38,459.22 L1196.38,459.83 L1197.38,460.44 L1198.39,461.05 L1199.42,461.66 L1200.45,462.25 L1201.50,462.85 L1202.56,463.44 L1203.63,464.01 L1204.71,464.58 L1205.80,465.14 L1206.90,465.69 L1208.02,466.23 L1209.14,466.76 L1210.28,467.29 L1211.43,467.80 L1212.59,468.31 L1213.76,468.82 L1214.94,469.32 L1216.14,469.82 L1217.35,470.31 L1218.57,470.81 L1219.80,471.31 L1221.04,471.80 L1222.30,472.30 L1223.56,472.79 L1224.84,473.28 L1226.13,473.76 L1227.44,474.23 L1228.75,474.69 L1230.08,475.13 L1231.42,475.55 L1232.78,475.96 L1234.14,476.34 L1235.52,476.70 L1236.91,477.04 L1238.32,477.36 L1239.74,477.65 L1241.17,477.92 L1242.61,478.17 L1244.06,478.41 L1245.53,478.62 L1247.02,478.82 L1248.51,479.00 L1250.02,479.17 L1251.54,479.32 L1253.08,479.46 L1254.63,479.59 L1256.19,479.70 L1257.76,479.80 L1259.35,479.89 L1260.95,479.97 L1262.57,480.04 L1264.20,480.11 L1265.84,480.16 L1267.50,480.21 L1269.16,480.25 L1270.85,480.29 L1272.54,480.32 L1274.24,480.35 L1275.95,480.37 L1277.68,480.40 L1279.41,480.41 L1281.14,480.43 L1282.88,480.44 L1284.63,480.44 L1286.37,480.45 L1288.12,480.45 L1289.86,480.45 L1291.59,480.45 L1293.32,480.44 L1295.05,480.43 L1296.76,480.42 L1298.46,480.40 L1300.15,480.39 L1301.84,480.37 L1303.50,480.34 L1305.16,480.31 L1306.80,480.27 L1308.43,480.23 L1310.05,480.18 L1311.65,480.13 L1313.24,480.07 L1314.81,479.99 L1316.37,479.91 L1317.92,479.82 L1319.46,479.72 L1320.98,479.60 L1322.49,479.48 L1323.98,479.34 L1325.47,479.18 L1326.94,479.02 L1328.39,478.84 L1329.83,478.64 L1331.26,478.43 L1332.68,478.21 L1334.09,477.96 L1335.48,477.70 L1336.86,477.41 L1338.22,477.11 L1339.58,476.79 L1340.92,476.45 L1342.25,476.10 L1343.56,475.73 L1344.87,475.34 L1346.16,474.95 L1347.44,474.54 L1348.70,474.13 L1349.96,473.71 L1351.20,473.28 L1352.43,472.85 L1353.65,472.42 L1354.86,471.98 L1356.06,471.53 L1357.24,471.08 L1358.41,470.62 L1359.57,470.15 L1360.72,469.68 L1361.86,469.19 L1362.98,468.70 L1364.10,468.19 L1365.20,467.67 L1366.29,467.15 L1367.37,466.61 L1368.44,466.05 L1369.50,465.49 L1370.55,464.92 L1371.58,464.34 L1372.61,463.75 L1373.62,463.16 L1374.62,462.56 L1375.62,461.95 L1376.60,461.34 L1377.57,460.73 L1378.53,460.11 L1379.48,459.49 L1380.42,458.87 L1381.35,458.25 L1382.27,457.62 L1383.18,457.00 L1384.07,456.37 L1384.96,455.73 L1385.84,455.09 L1386.71,454.45 L1387.57,453.80 L1388.41,453.14 L1389.25,452.47 L1390.08,451.79 L1390.90,451.10 L1391.71,450.39 L1392.50,449.68 L1393.29,448.94 L1394.07,448.19 L1394.84,447.43 L1395.60,446.64 L1396.36,445.84 L1397.10,445.02 L1397.83,444.18 L1398.55,443.33 L1399.27,442.46 L1399.97,441.57 L1400.67,440.66 L1401.36,439.73 L1402.04,438.80 L1402.71,437.84 L1403.37,436.87 L1404.02,435.89 L1404.66,434.89 L1405.30,433.88 L1405.92,432.86 L1406.54,431.82 L1407.15,430.76 L1407.75,429.69 L1408.34,428.61 L1408.93,427.51 L1409.50,426.39 L1410.07,425.26 L1410.63,424.12 L1411.18,422.95 L1411.73,421.78 L1412.26,420.58 L1412.79,419.37 L1413.31,418.15 L1413.82,416.91 L1414.33,415.66 L1414.82,414.39 L1415.31,413.10 L1415.80,411.79 L1416.27,410.47 L1416.74,409.12 L1417.20,407.74 L1417.65,406.34 L1418.09,404.90 L1418.53,403.42 L1418.96,401.90 L1419.39,400.33 L1419.80,398.70 L1420.21,397.00 L1420.62,395.23 L1421.01,393.37 L1421.40,391.41 L1421.79,389.35 L1422.16,387.17 L1422.53,384.86 L1422.90,382.41 L1423.25,379.81 L1423.60,377.08 L1423.95,374.19 L1424.28,371.17 L1424.62,368.02 L1424.94,364.75 L1425.26,361.38 L1425.57,357.93 L1425.88,354.42 L1426.18,350.86 L1426.48,347.26 L1426.77,343.65 L1427.05,340.03 L1427.33,336.40 L1427.60,332.75 L1427.87,329.09 L1428.13,325.41 L1428.38,321.69 L1428.63,317.91 L1428.88,314.08 L1429.12,310.17 L1429.35,306.18 L1429.58,302.10 L1429.81,297.92 L1430.02,293.63 L1430.24,289.24 L1430.45,284.73 L1430.65,280.09 L1430.85,275.32 L1431.05,270.42 L1431.24,265.37 L1431.42,260.16 L1431.60,254.80 L1431.78,249.28 L1431.95,243.60 L1432.12,237.77 L1432.28,231.81 L1432.44,225.74 L1432.59,219.58 L1432.74,213.37 L1432.89,207.14 L1433.03,200.93 L1433.17,194.77 L1433.30,188.72 L1433.43,182.80 L1433.56,177.04 L1433.68,171.47 L1433.80,166.13 L1433.91,161.01 L1434.02,156.14 L1434.13,151.52 L1434.23,147.15 L1434.33,143.02 L1434.43,139.12 L1434.53,135.44 L1434.62,131.95 L1434.70,128.65 L1434.79,125.50 L1434.87,122.50 L1434.95,119.62 L1435.02,116.85 L1435.10,114.17 L1435.17,111.58 L1435.23,109.05 L1435.30,106.58 L1435.36,104.18 L1435.42,101.82 L1435.47,99.52 L1435.53,97.27 L1435.58,95.07 L1435.63,92.93 L1435.67,90.84 L1435.72,88.81 L1435.76,86.85 L1435.80,84.95 L1435.84,83.12 L1435.87,81.35 L1435.91,79.67 L1435.94,78.05 L1435.97,76.51 L1436.00,75.05 L1436.02,73.67 L1436.05,72.36 L1436.07,71.13 L1436.09,69.97 L1436.11,68.89 L1436.13,67.88 L1436.15,66.94 L1436.16,66.07 L1436.18,65.27 L1436.19,64.54 L1436.20,63.86 L1436.21,63.25 L1436.22,62.69 L1436.23,62.19 L1436.24,61.74 L1436.25,61.33 L1436.26,60.98 L1436.26,60.66 L1436.27,60.39 L1436.27,60.15 L1436.27,59.94 L1436.28,59.76 L1436.28,59.61 L1436.28,59.49 L1436.28,59.38 L1436.28,59.30 L1436.29,59.23 L1436.29,59.17 L1436.29,59.13 L1436.29,59.00 L1436.29,59.00 L1436.29,59.14 L1436.29,59.18 L1436.29,59.24 L1436.29,59.32 L1436.29,59.41 L1436.29,59.52 L1436.29,59.65 L1436.29,59.81 L1436.29,60.00 L1436.29,60.23 L1436.29,60.49 L1436.29,60.79 L1436.30,61.13 L1436.30,61.52 L1436.30,61.96 L1436.30,62.46 L1436.30,63.01 L1436.30,63.63 L1436.30,64.32 L1436.31,65.07 L1436.31,65.90 L1436.31,66.81 L1436.31,67.81 L1436.32,68.89 L1436.32,70.06 L1436.32,71.32 L1436.33,72.68 L1436.33,74.15 L1436.34,75.71 L1436.34,77.39 L1436.34,79.18 L1436.35,81.07 L1436.35,83.09 L1436.36,85.21 L1436.37,87.45 L1436.37,89.80 L1436.38,92.26 L1436.39,94.82 L1436.39,97.49 L1436.40,100.25 L1436.41,103.09 L1436.42,106.01 L1436.43,108.99 L1436.44,112.01 L1436.45,115.06 L1436.46,118.13 L1436.47,121.19 L1436.48,124.22 L1436.49,127.21 L1436.50,130.13 L1436.52,132.96 L1436.53,135.70 L1436.54,138.33 L1436.56,140.83 L1436.57,143.22 L1436.59,145.47 L1436.60,147.61 L1436.62,149.62 L1436.64,151.53 L1436.66,153.35 L1436.67,155.07 L1436.69,156.72 L1436.71,158.31 L1436.73,159.85 L1436.75,161.34 L1436.77,162.80 L1436.80,164.23 L1436.82,165.64 L1436.84,167.02 L1436.87,168.38 L1436.89,169.73 L1436.92,171.05 L1436.94,172.36 L1436.97,173.65 L1437.00,174.92 L1437.02,176.17 L1437.05,177.41 L1437.08,178.62 L1437.11,179.81 L1437.14,180.99 L1437.18,182.14 L1437.21,183.29 L1437.24,184.41 L1437.28,185.53 L1437.31,186.64 L1437.35,187.74 L1437.39,188.84 L1437.42,189.95 L1437.46,191.06 L1437.50,192.18 L1437.54,193.31 L1437.58,194.47 L1437.63,195.64 L1437.67,196.83 L1437.71,198.05 L1437.76,199.29 L1437.81,200.56 L1437.85,201.85 L1437.90,203.17 L1437.95,204.51 L1438.00,205.86 L1438.05,207.24 L1438.10,208.63 L1438.16,210.03 L1438.21,211.45 L1438.26,212.87 L1438.32,214.30 L1438.38,215.74 L1438.44,217.19 L1438.49,218.64 L1438.56,220.09 L1438.62,221.54 L1438.68,223.00 L1438.74,224.46 L1438.81,225.92 L1438.87,227.38 L1438.94,228.85 L1439.01,230.31 L1439.08,231.78 L1439.15,233.25 L1439.22,234.73 L1439.29,236.20 L1439.37,237.68 L1439.44,239.17 L1439.52,240.65 L1439.60,242.15 L1439.68,243.64 L1439.76,245.14 L1439.84,246.65 L1439.92,248.16 L1440.00,249.67 L1440.09,251.19 L1440.18,252.72 L1440.26,254.24 L1440.35,255.77 L1440.44,257.30 L1440.54,258.82 L1440.63,260.35 L1440.72,261.87 L1440.82,263.38 L1440.92,264.88 L1441.02,266.37 L1441.12,267.85 L1441.22,269.31 L1441.32,270.75 L1441.43,272.18 L1441.53,273.58 L1441.64,274.96 L1441.75,276.31 L1441.86,277.64 L1441.97,278.95 L1442.08,280.22 L1442.20,281.48 L1442.31,282.70 L1442.43,283.90 L1442.55,285.08 L1442.67,286.23 L1442.79,287.35 L1442.92,288.45 L1443.04,289.53 L1443.17,290.58 L1443.30,291.62 L1443.43,292.63 L1443.56,293.62 L1443.69,294.59 L1443.83,295.54 L1443.97,296.47 L1444.11,297.38 L1444.25,298.28 L1444.39,299.16 L1444.53,300.03 L1444.68,300.88 L1444.82,301.72 L1444.97,302.55 L1445.12,303.37 L1445.27,304.17 L1445.43,304.96 L1445.58,305.74 L1445.74,306.51 L1445.90,307.28 L1446.06,308.03 L1446.22,308.77 L1446.38,309.51 L1446.55,310.24 L1446.72,310.96 L1446.89,311.67 L1447.06,312.38 L1447.23,313.08 L1447.41,313.78 L1447.59,314.47 L1447.76,315.16 L1447.95,315.84 L1448.13,316.52 L1448.31,317.19 L1448.50,317.85 L1448.69,318.51 L1448.88,319.17 L1449.07,319.81 L1449.26,320.45 L1449.46,321.08 L1449.66,321.70 L1449.86,322.32 L1450.06,322.93 L1450.27,323.52 L1450.47,324.11 L1450.68,324.69 L1450.89,325.26 L1451.10,325.82 L1451.32,326.37 L1451.53,326.92 L1451.75,327.46 L1451.97,327.98 L1452.19,328.51 L1452.42,329.02 L1452.65,329.53 L1452.87,330.03 L1453.11,330.53 L1453.34,331.02 L1453.57,331.51 L1453.81,331.99 L1454.05,332.47 L1454.29,332.94 L1454.54,333.41 L1454.78,333.87 L1455.03,334.33 L1455.28,334.78 L1455.54,335.23 L1455.79,335.67 L1456.05,336.11 L1456.31,336.53 L1456.57,336.96 L1456.83,337.37 L1457.10,337.78 L1457.37,338.19 L1457.64,338.58 L1457.91,338.97 L1458.19,339.35 L1458.47,339.73 L1458.75,340.10 L1459.03,340.46 L1459.32,340.81 L1459.60,341.16 L1459.89,341.50 L1460.18,341.84 L1460.48,342.16 L1460.78,342.49 L1461.08,342.80 L1461.38,343.12 L1461.68,343.42 L1461.99,343.72 L1462.30,344.02 L1462.61,344.31 L1462.92,344.60 L1463.24,344.88 L1463.56,345.16 L1463.88,345.43 L1464.21,345.70 L1464.53,345.97 L1464.86,346.23 L1465.19,346.49 L1465.53,346.75 L1465.87,347.00 L1466.21,347.26 L1466.55,347.50 L1466.89,347.75 L1467.24,347.99 L1467.59,348.24 L1467.94,348.47 L1468.30,348.71 L1468.66,348.95 L1469.02,349.18 L1469.38,349.41 L1469.75,349.63 L1470.11,349.86 L1470.49,350.08 L1470.86,350.30 L1471.24,350.51 L1471.62,350.73 L1472.00,350.94 L1472.38,351.15 L1472.77,351.35 L1473.16,351.55 L1473.55,351.75 L1473.95,351.95 L1474.35,352.14 L1474.75,352.33 L1475.16,352.52 L1475.56,352.71 L1475.97,352.90 L1476.39,353.08 L1476.80,353.27 L1477.22,353.45 L1477.64,353.63 L1478.07,353.81 L1478.49,353.98 L1478.92,354.16 L1479.36,354.34 L1479.79,354.51 L1480.23,354.69 L1480.67,354.86 L1481.12,355.03 L1481.57,355.20 L1482.02,355.37 L1482.47,355.54 L1482.93,355.70 L1483.39,355.87 L1483.85,356.03 L1484.32,356.19 L1484.79,356.35 L1485.26,356.51 L1485.73,356.66 L1486.21,356.81 L1486.69,356.96 L1487.18,357.11 L1487.67,357.25 L1488.16,357.39 L1488.65,357.53 L1489.15,357.67 L1489.65,357.80 L1490.15,357.93 L1490.66,358.05 L1491.16,358.18 L1491.68,358.30 L1492.19,358.41 L1492.71,358.53 L1493.23,358.64 L1493.76,358.75 L1494.29,358.85 L1494.82,358.95 L1495.35,359.06 L1495.89,359.15 L1496.43,359.25 L1496.98,359.34 L1497.53,359.44 L1498.08,359.53 L1498.63,359.61 L1499.19,359.70 L1499.75,359.78 L1500.32,359.86 L1500.88,359.94 L1501.46,360.02 L1502.03,360.09 L1502.61,360.16 L1503.19,360.24 L1503.77,360.31 L1504.36,360.37 L1504.95,360.44 L1505.55,360.50 L1506.15,360.57 L1506.75,360.63 L1507.35,360.69 L1507.96,360.75 L1508.58,360.81 L1509.19,360.86 L1509.81,360.92 L1510.43,360.97 L1511.06,361.02 L1511.69,361.08 L1512.32,361.13 L1512.96,361.18 L1513.60,361.22 L1514.24,361.27 L1514.89,361.31 L1515.54,361.36 L1516.20,361.40 L1516.85,361.44 L1517.52,361.48 L1518.18,361.52 L1518.85,361.55 L1519.52,361.59 L1520.20,361.63 L1520.88,361.66 L1521.56,361.69 L1522.25,361.73 L1522.94,361.76 L1523.64,361.79 L1524.33,361.82 L1525.04,361.85 L1525.74,361.88 L1526.45,361.91 L1527.17,361.93 L1527.88,361.96 L1528.60,361.99 L1529.33,362.01 L1530.06,362.04 L1530.79,362.06 L1531.52,362.09 L1532.26,362.11 L1533.01,362.13 L1533.76,362.15 L1534.51,362.17 L1535.26,362.19 L1536.02,362.20 L1536.78,362.22 L1537.55,362.23 L1538.32,362.25 L1539.10,362.26 L1539.87,362.27 L1540.66,362.28 L1541.44,362.29 L1542.23,362.30 L1543.03,362.30 L1543.83,362.31 L1544.63,362.32 L1545.43,362.33 L1546.24,362.33 L1547.06,362.34 L1547.88,362.34 L1548.70,362.35 L1549.52,362.35 L1550.36,362.36 L1551.19,362.36 L1552.03,362.37 L1552.87,362.37 L1553.72,362.38 L1554.57,362.38 L1555.42,362.39 L1556.28,362.39 L1557.14,362.40 L1558.01,362.40 L1558.88,362.41 L1559.76,362.41 L1560.64,362.41 L1561.52,362.42 L1562.41,362.42 L1563.30,362.43 L1564.20,362.43 L1565.10,362.44 L1566.00,362.44 L1566.91,362.44 L1567.82,362.45 L1568.74,362.45 L1569.66,362.46 L1570.59,362.46 L1571.52,362.46 L1572.45,362.47 L1573.39,362.47 L1574.33,362.48 L1575.28,362.48 L1576.23,362.48 L1577.19,362.49 L1578.15,362.49 L1579.11,362.49 L1580.08,362.50 L1581.06,362.50 L1582.03,362.51 L1583.02,362.51 L1584.00,362.51 L1584.99,362.51 L1585.99,362.52 L1586.99,362.52 L1587.99,362.52 L1589.00,362.53 L1590.02,362.53 L1591.03,362.53 L1592.05,362.54 L1593.08,362.54 L1594.11,362.54 L1595.15,362.54 L1596.19,362.55 L1597.23,362.55 L1598.28,362.55 L1599.34,362.55 L1600.39,362.56 L1601.46,362.56 L1602.53,362.56 L1603.60,362.56 L1604.67,362.57 L1605.76,362.57 L1606.84,362.57 L1607.93,362.57 L1609.03,362.57 L1610.13,362.58 L1611.23,362.58 L1612.34,362.58 L1613.45,362.58 L1614.57,362.58 L1615.70,362.58 L1616.82,362.58 L1617.96,362.59 L1619.09,362.59 L1620.23,362.59 L1621.38,362.59 L1622.52,362.59 L1623.67,362.59 L1624.81,362.59 L1625.96,362.59 L1627.09,362.59 L1628.22,362.60 L1629.33,362.60 L1630.42,362.60 L1631.48,362.60 L1632.50,362.60 L1633.48,362.60 L1634.40,362.60 L1635.26,362.60 L1636.06,362.60 L1636.77,362.60 L1640.30,362.60" fill="none" stroke="#00ff00" stroke-width="9" stroke-linejoin="round" stroke-linecap="butt"/>
<path d="M930.70,396.70 L934.23,396.70 L934.94,396.70 L935.74,396.70 L936.60,396.70 L937.52,396.70 L938.50,396.70 L939.52,396.70 L940.58,396.70 L941.67,396.70 L942.78,396.70 L943.91,396.70 L945.04,396.70 L946.19,396.70 L947.33,396.70 L948.48,396.70 L949.62,396.70 L950.77,396.70 L951.91,396.70 L953.04,396.70 L954.18,396.70 L955.30,396.69 L956.43,396.69 L957.55,396.69 L958.66,396.69 L959.77,396.69 L960.87,396.69 L961.97,396.69 L963.07,396.69 L964.16,396.69 L965.24,396.69 L966.33,396.69 L967.40,396.69 L968.47,396.69 L969.54,396.69 L970.61,396.69 L971.66,396.69 L972.72,396.68 L973.77,396.68 L974.81,396.68 L975.85,396.68 L976.89,396.68 L977.92,396.68 L978.95,396.68 L979.97,396.68 L980.98,396.68 L982.00,396.68 L983.01,396.68 L984.01,396.67 L985.01,396.67 L986.01,396.67 L987.00,396.67 L987.98,396.67 L988.97,396.67 L989.94,396.67 L990.92,396.67 L991.89,396.67 L992.85,396.66 L993.81,396.66 L994.77,396.66 L995.72,396.66 L996.67,396.66 L997.61,396.66 L998.55,396.66 L999.48,396.66 L1000.41,396.65 L1001.34,396.65 L1002.26,396.65 L1003.18,396.65 L1004.09,396.65 L1005.00,396.65 L1005.90,396.65 L1006.80,396.65 L1007.70,396.64 L1008.59,396.64 L1009.48,396.64 L1010.36,396.64 L1011.24,396.64 L1012.12,396.64 L1012.99,396.63 L1013.86,396.63 L1014.72,396.63 L1015.58,396.63 L1016.43,396.63 L1017.28,396.63 L1018.13,396.62 L1018.97,396.62 L1019.81,396.62 L1020.64,396.62 L1021.48,396.62 L1022.30,396.62 L1023.12,396.61 L1023.94,396.61 L1024.76,396.61 L1025.57,396.61 L1026.37,396.61 L1027.17,396.60 L1027.97,396.60 L1028.77,396.60 L1029.56,396.59 L1030.34,396.59 L1031.13,396.58 L1031.90,396.58 L1032.68,396.57 L1033.45,396.56 L1034.22,396.56 L1034.98,396.55 L1035.74,396.54 L1036.49,396.53 L1037.24,396.52 L1037.99,396.50 L1038.74,396.49 L1039.48,396.48 L1040.21,396.46 L1040.94,396.45 L1041.67,396.43 L1042.40,396.41 L1043.12,396.39 L1043.83,396.38 L1044.55,396.36 L1045.26,396.34 L1045.96,396.32 L1046.67,396.30 L1047.36,396.27 L1048.06,396.25 L1048.75,396.23 L1049.44,396.20 L1050.12,396.18 L1050.80,396.16 L1051.48,396.13 L1052.15,396.11 L1052.82,396.08 L1053.48,396.05 L1054.15,396.03 L1054.80,396.00 L1055.46,395.97 L1056.11,395.94 L1056.76,395.91 L1057.40,395.88 L1058.04,395.85 L1058.68,395.82 L1059.31,395.78 L1059.94,395.75 L1060.57,395.71 L1061.19,395.67 L1061.81,395.63 L1062.42,395.59 L1063.04,395.55 L1063.65,395.50 L1064.25,395.45 L1064.85,395.40 L1065.45,395.34 L1066.05,395.28 L1066.64,395.22 L1067.23,395.16 L1067.81,395.10 L1068.39,395.03 L1068.97,394.96 L1069.54,394.89 L1070.12,394.82 L1070.68,394.74 L1071.25,394.67 L1071.81,394.59 L1072.37,394.51 L1072.92,394.44 L1073.47,394.36 L1074.02,394.28 L1074.57,394.20 L1075.11,394.12 L1075.65,394.04 L1076.18,393.96 L1076.71,393.88 L1077.24,393.80 L1077.77,393.72 L1078.29,393.64 L1078.81,393.56 L1079.32,393.48 L1079.84,393.40 L1080.34,393.32 L1080.85,393.24 L1081.35,393.16 L1081.85,393.08 L1082.35,392.99 L1082.84,392.91 L1083.33,392.82 L1083.82,392.74 L1084.31,392.65 L1084.79,392.56 L1085.27,392.48 L1085.74,392.39 L1086.21,392.30 L1086.68,392.21 L1087.15,392.11 L1087.61,392.02 L1088.07,391.93 L1088.53,391.83 L1088.98,391.73 L1089.43,391.63 L1089.88,391.53 L1090.33,391.43 L1090.77,391.33 L1091.21,391.23 L1091.64,391.12 L1092.08,391.01 L1092.51,390.90 L1092.93,390.79 L1093.36,390.68 L1093.78,390.56 L1094.20,390.44 L1094.61,390.32 L1095.03,390.19 L1095.44,390.07 L1095.84,389.94 L1096.25,389.80 L1096.65,389.67 L1097.05,389.53 L1097.45,389.39 L1097.84,389.24 L1098.23,389.09 L1098.62,388.94 L1099.00,388.79 L1099.38,388.63 L1099.76,388.47 L1100.14,388.31 L1100.51,388.15 L1100.89,387.98 L1101.25,387.81 L1101.62,387.63 L1101.98,387.45 L1102.34,387.27 L1102.70,387.08 L1103.06,386.89 L1103.41,386.70 L1103.76,386.50 L1104.11,386.30 L1104.45,386.10 L1104.79,385.89 L1105.13,385.67 L1105.47,385.46 L1105.81,385.24 L1106.14,385.01 L1106.47,384.78 L1106.79,384.54 L1107.12,384.30 L1107.44,384.05 L1107.76,383.80 L1108.08,383.54 L1108.39,383.28 L1108.70,383.01 L1109.01,382.73 L1109.32,382.45 L1109.62,382.15 L1109.92,381.85 L1110.22,381.55 L1110.52,381.23 L1110.82,380.91 L1111.11,380.58 L1111.40,380.25 L1111.68,379.91 L1111.97,379.56 L1112.25,379.21 L1112.53,378.85 L1112.81,378.49 L1113.09,378.13 L1113.36,377.76 L1113.63,377.39 L1113.90,377.02 L1114.17,376.65 L1114.43,376.27 L1114.69,375.90 L1114.95,375.52 L1115.21,375.14 L1115.46,374.77 L1115.72,374.39 L1115.97,374.01 L1116.22,373.63 L1116.46,373.25 L1116.71,372.87 L1116.95,372.49 L1117.19,372.10 L1117.43,371.72 L1117.66,371.33 L1117.89,370.94 L1118.13,370.55 L1118.35,370.16 L1118.58,369.76 L1118.81,369.37 L1119.03,368.97 L1119.25,368.56 L1119.47,368.16 L1119.68,367.75 L1119.90,367.33 L1120.11,366.91 L1120.32,366.49 L1120.53,366.07 L1120.73,365.64 L1120.94,365.21 L1121.14,364.77 L1121.34,364.33 L1121.54,363.88 L1121.74,363.43 L1121.93,362.97 L1122.12,362.50 L1122.31,362.03 L1122.50,361.55 L1122.69,361.07 L1122.87,360.58 L1123.05,360.08 L1123.24,359.57 L1123.41,359.05 L1123.59,358.53 L1123.77,358.00 L1123.94,357.46 L1124.11,356.91 L1124.28,356.35 L1124.45,355.79 L1124.62,355.22 L1124.78,354.65 L1124.94,354.07 L1125.10,353.48 L1125.26,352.89 L1125.42,352.29 L1125.57,351.69 L1125.73,351.09 L1125.88,350.48 L1126.03,349.87 L1126.18,349.26 L1126.32,348.65 L1126.47,348.03 L1126.61,347.41 L1126.75,346.79 L1126.89,346.16 L1127.03,345.54 L1127.17,344.91 L1127.31,344.27 L1127.44,343.64 L1127.57,342.99 L1127.70,342.35 L1127.83,341.69 L1127.96,341.03 L1128.08,340.36 L1128.21,339.69 L1128.33,339.00 L1128.45,338.30 L1128.57,337.59 L1128.69,336.87 L1128.80,336.14 L1128.92,335.39 L1129.03,334.63 L1129.14,333.85 L1129.25,333.06 L1129.36,332.25 L1129.47,331.42 L1129.57,330.58 L1129.68,329.72 L1129.78,328.84 L1129.88,327.94 L1129.98,327.02 L1130.08,326.07 L1130.18,325.11 L1130.28,324.12 L1130.37,323.11 L1130.46,322.07 L1130.56,321.01 L1130.65,319.92 L1130.74,318.80 L1130.82,317.66 L1130.91,316.49 L1131.00,315.28 L1131.08,314.05 L1131.16,312.78 L1131.24,311.47 L1131.32,310.13 L1131.40,308.74 L1131.48,307.31 L1131.56,305.83 L1131.63,304.29 L1131.71,302.69 L1131.78,301.03 L1131.85,299.30 L1131.92,297.49 L1131.99,295.60 L1132.06,293.64 L1132.13,291.60 L1132.19,289.48 L1132.26,287.29 L1132.32,285.02 L1132.38,282.69 L1132.44,280.31 L1132.51,277.87 L1132.56,275.39 L1132.62,272.89 L1132.68,270.36 L1132.74,267.81 L1132.79,265.26 L1132.84,262.71 L1132.90,260.17 L1132.95,257.64 L1133.00,255.12 L1133.05,252.62 L1133.10,250.14 L1133.15,247.69 L1133.19,245.25 L1133.24,242.84 L1133.29,240.45 L1133.33,238.09 L1133.37,235.75 L1133.42,233.43 L1133.46,231.14 L1133.50,228.87 L1133.54,226.62 L1133.58,224.40 L1133.61,222.21 L1133.65,220.04 L1133.69,217.90 L1133.72,215.78 L1133.76,213.70 L1133.79,211.65 L1133.82,209.62 L1133.86,207.63 L1133.89,205.67 L1133.92,203.75 L1133.95,201.85 L1133.98,200.00 L1134.00,198.17 L1134.03,196.38 L1134.06,194.63 L1134.08,192.91 L1134.11,191.23 L1134.13,189.59 L1134.16,187.98 L1134.18,186.41 L1134.20,184.87 L1134.23,183.37 L1134.25,181.91 L1134.27,180.49 L1134.29,179.10 L1134.31,177.76 L1134.33,176.44 L1134.34,175.17 L1134.36,173.93 L1134.38,172.72 L1134.40,171.56 L1134.41,170.43 L1134.43,169.33 L1134.44,168.27 L1134.46,167.25 L1134.47,166.26 L1134.48,165.30 L1134.50,164.38 L1134.51,163.49 L1134.52,162.63 L1134.53,161.81 L1134.54,161.01 L1134.55,160.25 L1134.56,159.52 L1134.57,158.82 L1134.58,158.16 L1134.59,157.52 L1134.60,156.90 L1134.61,156.32 L1134.61,155.77 L1134.62,155.24 L1134.63,154.74 L1134.63,154.26 L1134.64,153.81 L1134.65,153.38 L1134.65,152.98 L1134.66,152.60 L1134.66,152.24 L1134.66,151.91 L1134.67,151.59 L1134.67,151.30 L1134.68,151.03 L1134.68,150.77 L1134.68,150.54 L1134.69,150.32 L1134.69,150.12 L1134.69,149.93 L1134.69,149.76 L1134.70,149.61 L1134.70,149.47 L1134.70,149.34 L1134.70,149.22 L1134.70,149.12 L1134.70,149.03 L1134.70,148.95 L1134.71,148.88 L1134.71,148.81 L1134.71,148.76 L1134.71,148.71 L1134.71,148.67 L1134.71,148.64 L1134.71,148.61 L1134.71,148.59 L1134.71,148.57 L1134.71,148.55 L1134.71,148.54 L1134.71,148.53 L1134.71,148.50 L1134.71,148.50 L1134.71,148.68 L1134.71,148.74 L1134.71,148.81 L1134.72,148.91 L1134.72,149.03 L1134.72,149.17 L1134.72,149.34 L1134.72,149.55 L1134.73,149.79 L1134.73,150.07 L1134.73,150.40 L1134.74,150.78 L1134.74,151.21 L1134.75,151.70 L1134.76,152.26 L1134.77,152.87 L1134.78,153.56 L1134.79,154.33 L1134.80,155.17 L1134.81,156.09 L1134.82,157.10 L1134.84,158.20 L1134.85,159.39 L1134.87,160.68 L1134.89,162.06 L1134.91,163.55 L1134.93,165.14 L1134.95,166.84 L1134.98,168.64 L1135.00,170.56 L1135.03,172.59 L1135.06,174.74 L1135.09,177.00 L1135.13,179.37 L1135.16,181.86 L1135.20,184.46 L1135.24,187.18 L1135.28,190.00 L1135.33,192.94 L1135.37,195.98 L1135.42,199.13 L1135.47,202.37 L1135.53,205.71 L1135.58,209.14 L1135.64,212.65 L1135.70,216.24 L1135.77,219.89 L1135.83,223.61 L1135.90,227.39 L1135.98,231.21 L1136.05,235.07 L1136.13,238.96 L1136.21,242.88 L1136.30,246.81 L1136.38,250.76 L1136.47,254.71 L1136.57,258.65 L1136.67,262.57 L1136.77,266.48 L1136.87,270.35 L1136.98,274.19 L1137.09,277.98 L1137.20,281.72 L1137.32,285.41 L1137.44,289.04 L1137.57,292.61 L1137.70,296.14 L1137.83,299.62 L1137.97,303.07 L1138.11,306.50 L1138.26,309.92 L1138.41,313.35 L1138.56,316.81 L1138.72,320.30 L1138.88,323.84 L1139.05,327.42 L1139.22,331.04 L1139.40,334.71 L1139.58,338.40 L1139.76,342.10 L1139.95,345.78 L1140.15,349.43 L1140.35,353.01 L1140.55,356.51 L1140.76,359.90 L1140.98,363.16 L1141.19,366.27 L1141.42,369.23 L1141.65,372.02 L1141.88,374.65 L1142.12,377.12 L1142.37,379.43 L1142.62,381.60 L1142.87,383.65 L1143.13,385.57 L1143.40,387.40 L1143.67,389.15 L1143.95,390.83 L1144.23,392.46 L1144.52,394.05 L1144.82,395.60 L1145.12,397.13 L1145.43,398.64 L1145.74,400.14 L1146.06,401.62 L1146.38,403.09 L1146.72,404.55 L1147.05,405.99 L1147.40,407.43 L1147.75,408.84 L1148.10,410.25 L1148.47,411.63 L1148.84,413.00 L1149.21,414.36 L1149.60,415.71 L1149.99,417.04 L1150.38,418.36 L1150.79,419.68 L1151.20,420.99 L1151.61,422.30 L1152.04,423.61 L1152.47,424.91 L1152.91,426.22 L1153.35,427.52 L1153.80,428.82 L1154.26,430.13 L1154.73,431.42 L1155.20,432.72 L1155.69,434.00 L1156.18,435.27 L1156.67,436.53 L1157.18,437.78 L1157.69,439.00 L1158.21,440.20 L1158.74,441.38 L1159.27,442.53 L1159.82,443.66 L1160.37,444.76 L1160.93,445.84 L1161.50,446.89 L1162.07,447.91 L1162.66,448.90 L1163.25,449.87 L1163.85,450.81 L1164.46,451.73 L1165.08,452.62 L1165.70,453.49 L1166.34,454.33 L1166.98,455.15 L1167.63,455.96 L1168.29,456.74 L1168.96,457.51 L1169.64,458.26 L1170.33,459.00 L1171.03,459.72 L1171.73,460.44 L1172.45,461.14 L1173.17,461.84 L1173.90,462.54 L1174.64,463.23 L1175.40,463.91 L1176.16,464.59 L1176.93,465.27 L1177.71,465.94 L1178.50,466.61 L1179.29,467.27 L1180.10,467.93 L1180.92,468.58 L1181.75,469.22 L1182.59,469.86 L1183.43,470.49 L1184.29,471.11 L1185.16,471.73 L1186.04,472.34 L1186.93,472.94 L1187.82,473.54 L1188.73,474.13 L1189.65,474.72 L1190.58,475.30 L1191.52,475.89 L1192.47,476.47 L1193.43,477.05 L1194.40,477.64 L1195.38,478.22 L1196.38,478.81 L1197.38,479.39 L1198.39,479.97 L1199.42,480.54 L1200.45,481.10 L1201.50,481.65 L1202.56,482.19 L1203.63,482.71 L1204.71,483.22 L1205.80,483.70 L1206.90,484.17 L1208.02,484.61 L1209.14,485.03 L1210.28,485.44 L1211.43,485.82 L1212.59,486.19 L1213.76,486.53 L1214.94,486.87 L1216.14,487.19 L1217.35,487.50 L1218.57,487.79 L1219.80,488.08 L1221.04,488.35 L1222.30,488.61 L1223.56,488.87 L1224.84,489.12 L1226.13,489.36 L1227.44,489.59 L1228.75,489.82 L1230.08,490.04 L1231.42,490.26 L1232.78,490.47 L1234.14,490.67 L1235.52,490.87 L1236.91,491.06 L1238.32,491.25 L1239.74,491.43 L1241.17,491.61 L1242.61,491.78 L1244.06,491.95 L1245.53,492.11 L1247.02,492.27 L1248.51,492.41 L1250.02,492.55 L1251.54,492.69 L1253.08,492.81 L1254.63,492.93 L1256.19,493.04 L1257.76,493.15 L1259.35,493.24 L1260.95,493.33 L1262.57,493.42 L1264.20,493.49 L1265.84,493.57 L1267.50,493.63 L1269.16,493.69 L1270.85,493.75 L1272.54,493.79 L1274.24,493.84 L1275.95,493.88 L1277.68,493.91 L1279.41,493.94 L1281.14,493.96 L1282.88,493.97 L1284.63,493.98 L1286.37,493.99 L1288.12,493.99 L1289.86,493.98 L1291.59,493.97 L1293.32,493.96 L1295.05,493.93 L1296.76,493.91 L1298.46,493.88 L1300.15,493.84 L1301.84,493.80 L1303.50,493.75 L1305.16,493.70 L1306.80,493.65 L1308.43,493.58 L1310.05,493.52 L1311.65,493.44 L1313.24,493.36 L1314.81,493.27 L1316.37,493.17 L1317.92,493.06 L1319.46,492.95 L1320.98,492.83 L1322.49,492.70 L1323.98,492.57 L1325.47,492.42 L1326.94,492.27 L1328.39,492.12 L1329.83,491.95 L1331.26,491.79 L1332.68,491.61 L1334.09,491.43 L1335.48,491.25 L1336.86,491.06 L1338.22,490.86 L1339.58,490.66 L1340.92,490.45 L1342.25,490.24 L1343.56,490.02 L1344.87,489.79 L1346.16,489.56 L1347.44,489.31 L1348.70,489.06 L1349.96,488.80 L1351.20,488.53 L1352.43,488.25 L1353.65,487.96 L1354.86,487.66 L1356.06,487.34 L1357.24,487.01 L1358.41,486.66 L1359.57,486.30 L1360.72,485.92 L1361.86,485.51 L1362.98,485.09 L1364.10,484.65 L1365.20,484.19 L1366.29,483.71 L1367.37,483.21 L1368.44,482.69 L1369.50,482.16 L1370.55,481.61 L1371.58,481.06 L1372.61,480.50 L1373.62,479.94 L1374.62,479.38 L1375.62,478.82 L1376.60,478.26 L1377.57,477.71 L1378.53,477.16 L1379.48,476.61 L1380.42,476.07 L1381.35,475.52 L1382.27,474.98 L1383.18,474.43 L1384.07,473.88 L1384.96,473.32 L1385.84,472.76 L1386.71,472.19 L1387.57,471.61 L1388.41,471.02 L1389.25,470.42 L1390.08,469.81 L1390.90,469.19 L1391.71,468.56 L1392.50,467.92 L1393.29,467.28 L1394.07,466.62 L1394.84,465.95 L1395.60,465.28 L1396.36,464.59 L1397.10,463.89 L1397.83,463.19 L1398.55,462.46 L1399.27,461.73 L1399.97,460.98 L1400.67,460.22 L1401.36,459.44 L1402.04,458.64 L1402.71,457.83 L1403.37,456.99 L1404.02,456.13 L1404.66,455.24 L1405.30,454.34 L1405.92,453.40 L1406.54,452.43 L1407.15,451.44 L1407.75,450.41 L1408.34,449.35 L1408.93,448.25 L1409.50,447.11 L1410.07,445.94 L1410.63,444.74 L1411.18,443.49 L1411.73,442.22 L1412.26,440.91 L1412.79,439.57 L1413.31,438.21 L1413.82,436.83 L1414.33,435.43 L1414.82,434.03 L1415.31,432.61 L1415.80,431.19 L1416.27,429.77 L1416.74,428.36 L1417.20,426.94 L1417.65,425.53 L1418.09,424.11 L1418.53,422.70 L1418.96,421.28 L1419.39,419.86 L1419.80,418.44 L1420.21,417.00 L1420.62,415.55 L1421.01,414.09 L1421.40,412.62 L1421.79,411.13 L1422.16,409.62 L1422.53,408.10 L1422.90,406.57 L1423.25,405.02 L1423.60,403.45 L1423.95,401.87 L1424.28,400.27 L1424.62,398.65 L1424.94,397.00 L1425.26,395.33 L1425.57,393.63 L1425.88,391.88 L1426.18,390.10 L1426.48,388.25 L1426.77,386.35 L1427.05,384.38 L1427.33,382.34 L1427.60,380.21 L1427.87,377.99 L1428.13,375.69 L1428.38,373.29 L1428.63,370.79 L1428.88,368.21 L1429.12,365.53 L1429.35,362.77 L1429.58,359.93 L1429.81,357.01 L1430.02,354.04 L1430.24,351.01 L1430.45,347.94 L1430.65,344.85 L1430.85,341.74 L1431.05,338.62 L1431.24,335.51 L1431.42,332.41 L1431.60,329.34 L1431.78,326.29 L1431.95,323.27 L1432.12,320.26 L1432.28,317.27 L1432.44,314.28 L1432.59,311.27 L1432.74,308.25 L1432.89,305.18 L1433.03,302.05 L1433.17,298.86 L1433.30,295.59 L1433.43,292.24 L1433.56,288.81 L1433.68,285.28 L1433.80,281.68 L1433.91,278.00 L1434.02,274.24 L1434.13,270.43 L1434.23,266.57 L1434.33,262.67 L1434.43,258.74 L1434.53,254.79 L1434.62,250.83 L1434.70,246.88 L1434.79,242.93 L1434.87,239.00 L1434.95,235.10 L1435.02,231.23 L1435.10,227.40 L1435.17,223.63 L1435.23,219.90 L1435.30,216.24 L1435.36,212.66 L1435.42,209.14 L1435.47,205.72 L1435.53,202.38 L1435.58,199.13 L1435.63,195.98 L1435.67,192.94 L1435.72,190.00 L1435.76,187.18 L1435.80,184.46 L1435.84,181.86 L1435.87,179.37 L1435.91,177.00 L1435.94,174.74 L1435.97,172.59 L1436.00,170.56 L1436.02,168.64 L1436.05,166.84 L1436.07,165.14 L1436.09,163.55 L1436.11,162.06 L1436.13,160.68 L1436.15,159.39 L1436.16,158.20 L1436.18,157.10 L1436.19,156.09 L1436.20,155.17 L1436.21,154.33 L1436.22,153.56 L1436.23,152.87 L1436.24,152.26 L1436.25,151.70 L1436.26,151.21 L1436.26,150.78 L1436.27,150.40 L1436.27,150.07 L1436.27,149.79 L1436.28,149.55 L1436.28,149.34 L1436.28,149.17 L1436.28,149.03 L1436.28,148.91 L1436.29,148.81 L1436.29,148.74 L1436.29,148.68 L1436.29,148.50 L1436.29,148.50 L1436.29,148.53 L1436.29,148.54 L1436.29,148.55 L1436.29,148.57 L1436.29,148.59 L1436.29,148.61 L1436.29,148.64 L1436.29,148.67 L1436.29,148.71 L1436.29,148.76 L1436.29,148.81 L1436.29,148.88 L1436.30,148.95 L1436.30,149.03 L1436.30,149.12 L1436.30,149.22 L1436.30,149.34 L1436.30,149.47 L1436.30,149.61 L1436.31,149.76 L1436.31,149.93 L1436.31,150.12 L1436.31,150.32 L1436.32,150.54 L1436.32,150.77 L1436.32,151.03 L1436.33,151.30 L1436.33,151.59 L1436.34,151.91 L1436.34,152.24 L1436.34,152.60 L1436.35,152.98 L1436.35,153.38 L1436.36,153.81 L1436.37,154.26 L1436.37,154.74 L1436.38,155.24 L1436.39,155.77 L1436.39,156.32 L1436.40,156.90 L1436.41,157.52 L1436.42,158.16 L1436.43,158.82 L1436.44,159.52 L1436.45,160.25 L1436.46,161.01 L1436.47,161.81 L1436.48,162.63 L1436.49,163.49 L1436.50,164.38 L1436.52,165.30 L1436.53,166.26 L1436.54,167.25 L1436.56,168.27 L1436.57,169.33 L1436.59,170.43 L1436.60,171.56 L1436.62,172.72 L1436.64,173.93 L1436.66,175.17 L1436.67,176.44 L1436.69,177.76 L1436.71,179.10 L1436.73,180.49 L1436.75,181.91 L1436.77,183.37 L1436.80,184.87 L1436.82,186.41 L1436.84,187.98 L1436.87,189.59 L1436.89,191.23 L1436.92,192.91 L1436.94,194.63 L1436.97,196.38 L1437.00,198.17 L1437.02,200.00 L1437.05,201.85 L1437.08,203.75 L1437.11,205.67 L1437.14,207.63 L1437.18,209.62 L1437.21,211.65 L1437.24,213.70 L1437.28,215.78 L1437.31,217.90 L1437.35,220.04 L1437.39,222.21 L1437.42,224.40 L1437.46,226.62 L1437.50,228.87 L1437.54,231.14 L1437.58,233.43 L1437.63,235.75 L1437.67,238.09 L1437.71,240.45 L1437.76,242.84 L1437.81,245.25 L1437.85,247.69 L1437.90,250.14 L1437.95,252.62 L1438.00,255.12 L1438.05,257.64 L1438.10,260.17 L1438.16,262.71 L1438.21,265.26 L1438.26,267.81 L1438.32,270.36 L1438.38,272.89 L1438.44,275.39 L1438.49,277.87 L1438.56,280.31 L1438.62,282.69 L1438.68,285.02 L1438.74,287.29 L1438.81,289.48 L1438.87,291.60 L1438.94,293.64 L1439.01,295.60 L1439.08,297.49 L1439.15,299.30 L1439.22,301.03 L1439.29,302.69 L1439.37,304.29 L1439.44,305.83 L1439.52,307.31 L1439.60,308.74 L1439.68,310.13 L1439.76,311.47 L1439.84,312.78 L1439.92,314.05 L1440.00,315.28 L1440.09,316.49 L1440.18,317.66 L1440.26,318.80 L1440.35,319.92 L1440.44,321.01 L1440.54,322.07 L1440.63,323.11 L1440.72,324.12 L1440.82,325.11 L1440.92,326.07 L1441.02,327.02 L1441.12,327.94 L1441.22,328.84 L1441.32,329.72 L1441.43,330.58 L1441.53,331.42 L1441.64,332.25 L1441.75,333.06 L1441.86,333.85 L1441.97,334.63 L1442.08,335.39 L1442.20,336.14 L1442.31,336.87 L1442.43,337.59 L1442.55,338.30 L1442.67,339.00 L1442.79,339.69 L1442.92,340.36 L1443.04,341.03 L1443.17,341.69 L1443.30,342.35 L1443.43,342.99 L1443.56,343.64 L1443.69,344.27 L1443.83,344.91 L1443.97,345.54 L1444.11,346.16 L1444.25,346.79 L1444.39,347.41 L1444.53,348.03 L1444.68,348.65 L1444.82,349.26 L1444.97,349.87 L1445.12,350.48 L1445.27,351.09 L1445.43,351.69 L1445.58,352.29 L1445.74,352.89 L1445.90,353.48 L1446.06,354.07 L1446.22,354.65 L1446.38,355.22 L1446.55,355.79 L1446.72,356.35 L1446.89,356.91 L1447.06,357.46 L1447.23,358.00 L1447.41,358.53 L1447.59,359.05 L1447.76,359.57 L1447.95,360.08 L1448.13,360.58 L1448.31,361.07 L1448.50,361.55 L1448.69,362.03 L1448.88,362.50 L1449.07,362.97 L1449.26,363.43 L1449.46,363.88 L1449.66,364.33 L1449.86,364.77 L1450.06,365.21 L1450.27,365.64 L1450.47,366.07 L1450.68,366.49 L1450.89,366.91 L1451.10,367.33 L1451.32,367.75 L1451.53,368.16 L1451.75,368.56 L1451.97,368.97 L1452.19,369.37 L1452.42,369.76 L1452.65,370.16 L1452.87,370.55 L1453.11,370.94 L1453.34,371.33 L1453.57,371.72 L1453.81,372.10 L1454.05,372.49 L1454.29,372.87 L1454.54,373.25 L1454.78,373.63 L1455.03,374.01 L1455.28,374.39 L1455.54,374.77 L1455.79,375.14 L1456.05,375.52 L1456.31,375.90 L1456.57,376.27 L1456.83,376.65 L1457.10,377.02 L1457.37,377.39 L1457.64,377.76 L1457.91,378.13 L1458.19,378.49 L1458.47,378.85 L1458.75,379.21 L1459.03,379.56 L1459.32,379.91 L1459.60,380.25 L1459.89,380.58 L1460.18,380.91 L1460.48,381.23 L1460.78,381.55 L1461.08,381.85 L1461.38,382.15 L1461.68,382.45 L1461.99,382.73 L1462.30,383.01 L1462.61,383.28 L1462.92,383.54 L1463.24,383.80 L1463.56,384.05 L1463.88,384.30 L1464.21,384.54 L1464.53,384.78 L1464.86,385.01 L1465.19,385.24 L1465.53,385.46 L1465.87,385.67 L1466.21,385.89 L1466.55,386.10 L1466.89,386.30 L1467.24,386.50 L1467.59,386.70 L1467.94,386.89 L1468.30,387.08 L1468.66,387.27 L1469.02,387.45 L1469.38,387.63 L1469.75,387.81 L1470.11,387.98 L1470.49,388.15 L1470.86,388.31 L1471.24,388.47 L1471.62,388.63 L1472.00,388.79 L1472.38,388.94 L1472.77,389.09 L1473.16,389.24 L1473.55,389.39 L1473.95,389.53 L1474.35,389.67 L1474.75,389.80 L1475.16,389.94 L1475.56,390.07 L1475.97,390.19 L1476.39,390.32 L1476.80,390.44 L1477.22,390.56 L1477.64,390.68 L1478.07,390.79 L1478.49,390.90 L1478.92,391.01 L1479.36,391.12 L1479.79,391.23 L1480.23,391.33 L1480.67,391.43 L1481.12,391.53 L1481.57,391.63 L1482.02,391.73 L1482.47,391.83 L1482.93,391.93 L1483.39,392.02 L1483.85,392.11 L1484.32,392.21 L1484.79,392.30 L1485.26,392.39 L1485.73,392.48 L1486.21,392.56 L1486.69,392.65 L1487.18,392.74 L1487.67,392.82 L1488.16,392.91 L1488.65,392.99 L1489.15,393.08 L1489.65,393.16 L1490.15,393.24 L1490.66,393.32 L1491.16,393.40 L1491.68,393.48 L1492.19,393.56 L1492.71,393.64 L1493.23,393.72 L1493.76,393.80 L1494.29,393.88 L1494.82,393.96 L1495.35,394.04 L1495.89,394.12 L1496.43,394.20 L1496.98,394.28 L1497.53,394.36 L1498.08,394.44 L1498.63,394.51 L1499.19,394.59 L1499.75,394.67 L1500.32,394.74 L1500.88,394.82 L1501.46,394.89 L1502.03,394.96 L1502.61,395.03 L1503.19,395.10 L1503.77,395.16 L1504.36,395.22 L1504.95,395.28 L1505.55,395.34 L1506.15,395.40 L1506.75,395.45 L1507.35,395.50 L1507.96,395.55 L1508.58,395.59 L1509.19,395.63 L1509.81,395.67 L1510.43,395.71 L1511.06,395.75 L1511.69,395.78 L1512.32,395.82 L1512.96,395.85 L1513.60,395.88 L1514.24,395.91 L1514.89,395.94 L1515.54,395.97 L1516.20,396.00 L1516.85,396.03 L1517.52,396.05 L1518.18,396.08 L1518.85,396.11 L1519.52,396.13 L1520.20,396.16 L1520.88,396.18 L1521.56,396.20 L1522.25,396.23 L1522.94,396.25 L1523.64,396.27 L1524.33,396.30 L1525.04,396.32 L1525.74,396.34 L1526.45,396.36 L1527.17,396.38 L1527.88,396.39 L1528.60,396.41 L1529.33,396.43 L1530.06,396.45 L1530.79,396.46 L1531.52,396.48 L1532.26,396.49 L1533.01,396.50 L1533.76,396.52 L1534.51,396.53 L1535.26,396.54 L1536.02,396.55 L1536.78,396.56 L1537.55,396.56 L1538.32,396.57 L1539.10,396.58 L1539.87,396.58 L1540.66,396.59 L1541.44,396.59 L1542.23,396.60 L1543.03,396.60 L1543.83,396.60 L1544.63,396.61 L1545.43,396.61 L1546.24,396.61 L1547.06,396.61 L1547.88,396.61 L1548.70,396.62 L1549.52,396.62 L1550.36,396.62 L1551.19,396.62 L1552.03,396.62 L1552.87,396.62 L1553.72,396.63 L1554.57,396.63 L1555.42,396.63 L1556.28,396.63 L1557.14,396.63 L1558.01,396.63 L1558.88,396.64 L1559.76,396.64 L1560.64,396.64 L1561.52,396.64 L1562.41,396.64 L1563.30,396.64 L1564.20,396.65 L1565.10,396.65 L1566.00,396.65 L1566.91,396.65 L1567.82,396.65 L1568.74,396.65 L1569.66,396.65 L1570.59,396.65 L1571.52,396.66 L1572.45,396.66 L1573.39,396.66 L1574.33,396.66 L1575.28,396.66 L1576.23,396.66 L1577.19,396.66 L1578.15,396.66 L1579.11,396.67 L1580.08,396.67 L1581.06,396.67 L1582.03,396.67 L1583.02,396.67 L1584.00,396.67 L1584.99,396.67 L1585.99,396.67 L1586.99,396.67 L1587.99,396.68 L1589.00,396.68 L1590.02,396.68 L1591.03,396.68 L1592.05,396.68 L1593.08,396.68 L1594.11,396.68 L1595.15,396.68 L1596.19,396.68 L1597.23,396.68 L1598.28,396.68 L1599.34,396.69 L1600.39,396.69 L1601.46,396.69 L1602.53,396.69 L1603.60,396.69 L1604.67,396.69 L1605.76,396.69 L1606.84,396.69 L1607.93,396.69 L1609.03,396.69 L1610.13,396.69 L1611.23,396.69 L1612.34,396.69 L1613.45,396.69 L1614.57,396.69 L1615.70,396.69 L1616.82,396.70 L1617.96,396.70 L1619.09,396.70 L1620.23,396.70 L1621.38,396.70 L1622.52,396.70 L1623.67,396.70 L1624.81,396.70 L1625.96,396.70 L1627.09,396.70 L1628.22,396.70 L1629.33,396.70 L1630.42,396.70 L1631.48,396.70 L1632.50,396.70 L1633.48,396.70 L1634.40,396.70 L1635.26,396.70 L1636.06,396.70 L1636.77,396.70 L1640.30,396.70" fill="none" stroke="#8000ff" stroke-width="9" stroke-linejoin="round" stroke-linecap="butt"/>
<line x1="1178.75" y1="248.4" x2="1233.5" y2="248.4" stroke="#00ff00" stroke-width="9.5" stroke-linecap="round"/>
<line x1="1178.75" y1="281.5" x2="1233.5" y2="281.5" stroke="#8000ff" stroke-width="9.5" stroke-linecap="round"/>
<rect x="1105.35" y="546.5" width="5.5" height="5" fill="#000"/>
<rect x="1282.75" y="546.5" width="5.5" height="5" fill="#000"/>
<rect x="1460.15" y="546.5" width="5.5" height="5" fill="#000"/>
<text transform="translate(900.26,567.30) scale(1.0400,1.0)" font-family="'Liberation Sans', sans-serif" font-weight="bold" font-size="33.50">0</text>
<text transform="translate(900.26,504.50) scale(1.0400,1.0)" font-family="'Liberation Sans', sans-serif" font-weight="bold" font-size="33.50">2</text>
<text transform="translate(899.04,441.70) scale(1.0400,1.0)" font-family="'Liberation Sans', sans-serif" font-weight="bold" font-size="33.50">4</text>
<text transform="translate(900.08,378.90) scale(1.0400,1.0)" font-family="'Liberation Sans', sans-serif" font-weight="bold" font-size="33.50">6</text>
<text transform="translate(899.91,316.10) scale(1.0400,1.0)" font-family="'Liberation Sans', sans-serif" font-weight="bold" font-size="33.50">8</text>
<text transform="translate(880.92,253.30) scale(1.0400,1.0)" font-family="'Liberation Sans', sans-serif" font-weight="bold" font-size="33.50">10</text>
<text transform="translate(880.92,190.50) scale(1.0400,1.0)" font-family="'Liberation Sans', sans-serif" font-weight="bold" font-size="33.50">12</text>
<text transform="translate(879.70,127.70) scale(1.0400,1.0)" font-family="'Liberation Sans', sans-serif" font-weight="bold" font-size="33.50">14</text>
<text transform="translate(880.75,64.90) scale(1.0400,1.0)" font-family="'Liberation Sans', sans-serif" font-weight="bold" font-size="33.50">16</text>
<text transform="translate(921.23,584.30) scale(1.0500,1.0)" font-family="'Liberation Sans', sans-serif" font-weight="bold" font-size="32.50">0</text>
<text transform="translate(1098.72,584.30) scale(1.0500,1.0)" font-family="'Liberation Sans', sans-serif" font-weight="bold" font-size="32.50">2</text>
<text transform="translate(1275.86,584.30) scale(1.0500,1.0)" font-family="'Liberation Sans', sans-serif" font-weight="bold" font-size="32.50">4</text>
<text transform="translate(1453.43,584.30) scale(1.0500,1.0)" font-family="'Liberation Sans', sans-serif" font-weight="bold" font-size="32.50">6</text>
<text transform="translate(1630.83,584.30) scale(1.0500,1.0)" font-family="'Liberation Sans', sans-serif" font-weight="bold" font-size="32.50">8</text>
<text transform="translate(933.93,33.60) scale(0.9985,1.0)" font-family="'Liberation Sans', sans-serif" font-weight="normal" font-size="29.50">(b)</text>
<text transform="translate(976.03,33.00) scale(0.9887,1.0)" font-family="'Liberation Sans', sans-serif" font-weight="bold" font-size="30.60">Insulator</text>
<text transform="translate(1243.76,35.50) scale(0.9867,1.0)" font-family="'Liberation Sans', sans-serif" font-weight="bold" font-size="30.30">Mesa</text>
<text transform="translate(1473.34,36.00) scale(0.9744,1.0)" font-family="'Liberation Sans', sans-serif" font-weight="bold" font-size="31.00">Insulator</text>
<text transform="translate(1461.61,85.70) scale(1.0748,1.0)" font-family="'Liberation Serif', sans-serif" font-weight="bold" font-size="31.50">@</text>
<text transform="translate(1500.70,85.70) scale(0.9663,1.0)" font-family="'Liberation Sans', sans-serif" font-weight="bold" font-size="31.00">-1300 V</text>
<text transform="translate(944.13,538.60) scale(1.0659,1.0)" font-family="'Liberation Sans', sans-serif" font-weight="bold" font-size="29.00">Acceptor-type traps (cm</text>
<text transform="translate(1300.17,525.60) scale(1.0378,1.0)" font-family="'Liberation Sans', sans-serif" font-weight="bold" font-size="20.10">-3</text>
<text transform="translate(1320.40,538.60) scale(0.9437,1.0)" font-family="'Liberation Sans', sans-serif" font-weight="bold" font-size="29.00">)</text>
<text transform="translate(1247.17,258.10) scale(0.9458,1.0)" font-family="'Liberation Sans', sans-serif" font-weight="bold" font-size="28.80">1 x 10</text>
<text transform="translate(1323.85,246.50) scale(0.9783,1.0)" font-family="'Liberation Sans', sans-serif" font-weight="bold" font-size="17.90">14</text>
<text transform="translate(1344.42,258.10) scale(0.9882,1.0)" font-family="'Liberation Sans', sans-serif" font-weight="bold" font-size="28.80">/cm</text>
<text transform="translate(1393.90,247.10) scale(0.9029,1.0)" font-family="'Liberation Sans', sans-serif" font-weight="bold" font-size="17.90">3</text>
<text transform="translate(1247.17,291.30) scale(0.9458,1.0)" font-family="'Liberation Sans', sans-serif" font-weight="bold" font-size="28.80">1 x 10</text>
<text transform="translate(1323.82,279.70) scale(1.0072,1.0)" font-family="'Liberation Sans', sans-serif" font-weight="bold" font-size="17.90">16</text>
<text transform="translate(1344.42,291.30) scale(0.9882,1.0)" font-family="'Liberation Sans', sans-serif" font-weight="bold" font-size="28.80">/cm</text>
<text transform="translate(1393.90,280.30) scale(0.9029,1.0)" font-family="'Liberation Sans', sans-serif" font-weight="bold" font-size="17.90">3</text>
<text transform="translate(1060.34,619.20) scale(1.0245,1.0)" font-family="'Liberation Sans', sans-serif" font-weight="bold" font-size="31.60">Vertical relative position (µm)</text>
<text transform="translate(865.00,456.31) rotate(-90) scale(0.9793,1)" font-family="'Liberation Sans', sans-serif" font-weight="bold" font-size="36.30">Electric field (MV/cm)</text>
</svg></body></html>
